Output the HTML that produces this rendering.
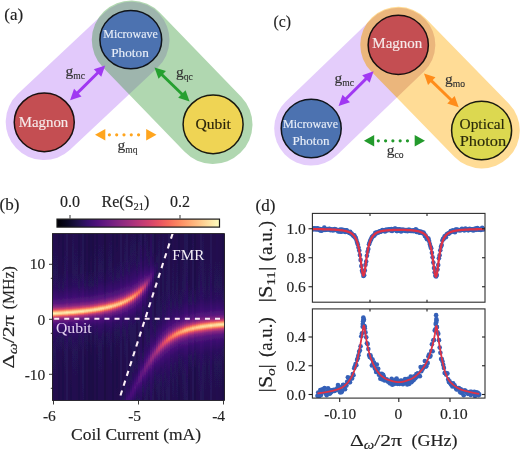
<!DOCTYPE html>
<html><head><meta charset="utf-8"><title>Figure</title>
<style>
html,body{margin:0;padding:0;background:#fff;}
svg{display:block;font-family:"Liberation Serif", "DejaVu Serif", serif;}
</style></head><body>
<svg width="520" height="451" viewBox="0 0 520 451">
<rect width="520" height="451" fill="#fff"/>
<g stroke-linecap="round" fill="none">
<line x1="43.9" y1="121.9" x2="131.3" y2="39.9" stroke="#9030f0" stroke-opacity="0.26" stroke-width="76.4"/>
<line x1="131.3" y1="39.9" x2="213" y2="124.4" stroke="#2f952f" stroke-opacity="0.38" stroke-width="79"/>
</g>
<ellipse cx="44.25" cy="122.35" rx="30" ry="29.3" fill="#c44e52" stroke="#1a1010" stroke-width="1.5"/>
<ellipse cx="130.8" cy="39.65" rx="30.9" ry="29.2" fill="#4c72b0" stroke="#10141a" stroke-width="1.5"/>
<ellipse cx="213.1" cy="124.35" rx="30" ry="29.3" fill="#efd454" stroke="#1a1a10" stroke-width="1.5"/>
<polygon points="105.20,65.50 93.79,69.32 101.25,76.86" fill="#a038f2"/>
<polygon points="70.10,100.20 74.05,88.84 81.51,96.38" fill="#a038f2"/>
<line x1="98.29" y1="72.33" x2="77.01" y2="93.37" stroke="#a038f2" stroke-width="2.9"/>
<polygon points="154.50,67.40 158.55,78.73 165.94,71.12" fill="#26a030"/>
<polygon points="189.60,101.50 178.16,97.78 185.55,90.17" fill="#26a030"/>
<line x1="161.47" y1="74.17" x2="182.63" y2="94.73" stroke="#26a030" stroke-width="2.9"/>
<polygon points="95.00,134.80 105.30,140.60 105.30,129.00" fill="#ffa51e"/>
<polygon points="156.50,134.80 146.20,140.60 146.20,129.00" fill="#ffa51e"/>
<line x1="109.40" y1="134.80" x2="138.80" y2="134.80" stroke="#ffa51e" stroke-width="3.2" stroke-linecap="round" stroke-dasharray="0.01 7.28"/>
<text x="4.3" y="20.3" font-size="17" text-anchor="start" fill="#222" stroke="#222" stroke-width="0.15" >(a)</text>
<text x="43.5" y="126.6" font-size="15.5" text-anchor="middle" fill="#f6eaea" stroke="#f6eaea" stroke-width="0.15" textLength="49.5" lengthAdjust="spacingAndGlyphs" >Magnon</text>
<text x="130.5" y="38.4" font-size="13.5" text-anchor="middle" fill="#e8eef8" stroke="#e8eef8" stroke-width="0.15" textLength="54.5" lengthAdjust="spacingAndGlyphs" >Microwave</text>
<text x="130" y="56.7" font-size="13.5" text-anchor="middle" fill="#e8eef8" stroke="#e8eef8" stroke-width="0.15" textLength="37.5" lengthAdjust="spacingAndGlyphs" >Photon</text>
<text x="213.2" y="128.8" font-size="15.5" text-anchor="middle" fill="#2a230a" stroke="#2a230a" stroke-width="0.15" textLength="35.5" lengthAdjust="spacingAndGlyphs" >Qubit</text>
<text x="65.5" y="76.2" font-size="15.5" fill="#333" stroke="#333" stroke-width="0.15">g<tspan font-size="9.6" dy="2.5">mc</tspan></text>
<text x="176" y="77.2" font-size="15.5" fill="#333" stroke="#333" stroke-width="0.15">g<tspan font-size="9.6" dy="2.5">qc</tspan></text>
<text x="117.5" y="150" font-size="15.5" fill="#333" stroke="#333" stroke-width="0.15">g<tspan font-size="9.6" dy="2.5">mq</tspan></text>
<g stroke-linecap="round" fill="none">
<line x1="311.2" y1="128.5" x2="398.3" y2="44.8" stroke="#9030f0" stroke-opacity="0.24" stroke-width="74"/>
<line x1="398.3" y1="44.8" x2="481.8" y2="130.4" stroke="#ffb92d" stroke-opacity="0.5" stroke-width="76"/>
</g>
<clipPath id="cpc"><rect x="-37" y="-37" width="194.80" height="74" rx="37" transform="translate(311.2,128.5) rotate(-43.860)"/></clipPath>
<g clip-path="url(#cpc)"><rect x="-38" y="-38" width="195.58" height="76" rx="38" transform="translate(398.3,44.8) rotate(45.712)" fill="#c87800" fill-opacity="0.16"/></g>
<ellipse cx="311.2" cy="128.5" rx="30" ry="29.3" fill="#4c72b0" stroke="#10141a" stroke-width="1.5"/>
<ellipse cx="398.25" cy="44.9" rx="30.1" ry="29.6" fill="#c44e52" stroke="#1a1010" stroke-width="1.5"/>
<ellipse cx="481.6" cy="130.5" rx="30" ry="29.3" fill="#dcd850" stroke="#1a1a10" stroke-width="1.5"/>
<polygon points="373.60,71.30 362.20,75.14 369.66,82.67" fill="#a038f2"/>
<polygon points="338.60,106.00 342.54,94.63 350.00,102.16" fill="#a038f2"/>
<line x1="366.70" y1="78.14" x2="345.50" y2="99.16" stroke="#a038f2" stroke-width="2.9"/>
<polygon points="424.00,73.60 428.06,84.93 435.44,77.32" fill="#ff8c1a"/>
<polygon points="458.70,107.30 447.26,103.58 454.64,95.97" fill="#ff8c1a"/>
<line x1="430.97" y1="80.37" x2="451.73" y2="100.53" stroke="#ff8c1a" stroke-width="2.9"/>
<polygon points="363.90,140.80 374.20,146.60 374.20,135.00" fill="#239a2c"/>
<polygon points="425.00,140.80 414.70,146.60 414.70,135.00" fill="#239a2c"/>
<line x1="378.30" y1="140.80" x2="407.70" y2="140.80" stroke="#239a2c" stroke-width="3.2" stroke-linecap="round" stroke-dasharray="0.01 7.28"/>
<text x="273.6" y="26.7" font-size="17" text-anchor="start" fill="#222" stroke="#222" stroke-width="0.15" textLength="17.5" lengthAdjust="spacingAndGlyphs" >(c)</text>
<text x="397.3" y="48.3" font-size="15.5" text-anchor="middle" fill="#f6eaea" stroke="#f6eaea" stroke-width="0.15" textLength="50" lengthAdjust="spacingAndGlyphs" >Magnon</text>
<text x="310.5" y="127.5" font-size="13.5" text-anchor="middle" fill="#e8eef8" stroke="#e8eef8" stroke-width="0.15" textLength="55" lengthAdjust="spacingAndGlyphs" >Microwave</text>
<text x="311" y="144.5" font-size="13.5" text-anchor="middle" fill="#e8eef8" stroke="#e8eef8" stroke-width="0.15" textLength="37" lengthAdjust="spacingAndGlyphs" >Photon</text>
<text x="482.2" y="128.8" font-size="15.5" text-anchor="middle" fill="#2a2a0a" stroke="#2a2a0a" stroke-width="0.15" textLength="45.3" lengthAdjust="spacingAndGlyphs" >Optical</text>
<text x="483" y="146.2" font-size="15.5" text-anchor="middle" fill="#2a2a0a" stroke="#2a2a0a" stroke-width="0.15" textLength="46.5" lengthAdjust="spacingAndGlyphs" >Photon</text>
<text x="334.5" y="83" font-size="15.5" fill="#333" stroke="#333" stroke-width="0.15">g<tspan font-size="9.6" dy="2.5">mc</tspan></text>
<text x="445" y="84" font-size="15.5" fill="#333" stroke="#333" stroke-width="0.15">g<tspan font-size="9.6" dy="2.5">mo</tspan></text>
<text x="386.7" y="155" font-size="15.5" fill="#333" stroke="#333" stroke-width="0.15">g<tspan font-size="9.6" dy="2.5">co</tspan></text>
<defs><linearGradient id="c0" x1="0" y1="0" x2="0" y2="1"><stop offset="0.0000" stop-color="#21114e"/><stop offset="0.0997" stop-color="#221150"/><stop offset="0.2421" stop-color="#241253"/><stop offset="0.3252" stop-color="#2a115c"/><stop offset="0.3846" stop-color="#3b0f70"/><stop offset="0.4202" stop-color="#5a167e"/><stop offset="0.4415" stop-color="#8b2981"/><stop offset="0.4558" stop-color="#d5446d"/><stop offset="0.4653" stop-color="#fc8c63"/><stop offset="0.4724" stop-color="#fed194"/><stop offset="0.4795" stop-color="#fceeb0"/><stop offset="0.4866" stop-color="#fec68a"/><stop offset="0.4938" stop-color="#f8745c"/><stop offset="0.5033" stop-color="#ba3878"/><stop offset="0.5175" stop-color="#782281"/><stop offset="0.5389" stop-color="#4e117b"/><stop offset="0.5745" stop-color="#341069"/><stop offset="0.6338" stop-color="#29115a"/><stop offset="0.7169" stop-color="#241253"/><stop offset="0.8594" stop-color="#21114e"/><stop offset="1.0000" stop-color="#21114e"/></linearGradient><linearGradient id="c1" x1="0" y1="0" x2="0" y2="1"><stop offset="0.0000" stop-color="#221150"/><stop offset="0.0988" stop-color="#221150"/><stop offset="0.2413" stop-color="#251255"/><stop offset="0.3244" stop-color="#2c115f"/><stop offset="0.3838" stop-color="#3d0f71"/><stop offset="0.4195" stop-color="#5c167f"/><stop offset="0.4408" stop-color="#8c2981"/><stop offset="0.4551" stop-color="#d5446d"/><stop offset="0.4646" stop-color="#fc8e64"/><stop offset="0.4717" stop-color="#fed194"/><stop offset="0.4788" stop-color="#fcf0b2"/><stop offset="0.4860" stop-color="#fec88c"/><stop offset="0.4931" stop-color="#f8745c"/><stop offset="0.5026" stop-color="#bc3978"/><stop offset="0.5169" stop-color="#782281"/><stop offset="0.5382" stop-color="#4f127b"/><stop offset="0.5739" stop-color="#36106b"/><stop offset="0.6332" stop-color="#29115a"/><stop offset="0.7164" stop-color="#241253"/><stop offset="0.8589" stop-color="#221150"/><stop offset="1.0000" stop-color="#21114e"/></linearGradient><linearGradient id="c2" x1="0" y1="0" x2="0" y2="1"><stop offset="0.0000" stop-color="#20114b"/><stop offset="0.0978" stop-color="#21114e"/><stop offset="0.2404" stop-color="#241253"/><stop offset="0.3236" stop-color="#2a115c"/><stop offset="0.3831" stop-color="#3b0f70"/><stop offset="0.4187" stop-color="#5a167e"/><stop offset="0.4401" stop-color="#8b2981"/><stop offset="0.4544" stop-color="#d3436e"/><stop offset="0.4639" stop-color="#fc8a62"/><stop offset="0.4710" stop-color="#fecf92"/><stop offset="0.4781" stop-color="#fcecae"/><stop offset="0.4853" stop-color="#fec488"/><stop offset="0.4924" stop-color="#f7725c"/><stop offset="0.5019" stop-color="#ba3878"/><stop offset="0.5162" stop-color="#762181"/><stop offset="0.5376" stop-color="#4e117b"/><stop offset="0.5732" stop-color="#331067"/><stop offset="0.6326" stop-color="#271258"/><stop offset="0.7158" stop-color="#221150"/><stop offset="0.8584" stop-color="#21114e"/><stop offset="1.0000" stop-color="#20114b"/></linearGradient><linearGradient id="c3" x1="0" y1="0" x2="0" y2="1"><stop offset="0.0000" stop-color="#1e1149"/><stop offset="0.0969" stop-color="#20114b"/><stop offset="0.2396" stop-color="#21114e"/><stop offset="0.3228" stop-color="#271258"/><stop offset="0.3823" stop-color="#38106c"/><stop offset="0.4179" stop-color="#57157e"/><stop offset="0.4393" stop-color="#882781"/><stop offset="0.4536" stop-color="#d2426f"/><stop offset="0.4631" stop-color="#fc8961"/><stop offset="0.4703" stop-color="#fecc8f"/><stop offset="0.4774" stop-color="#fdebac"/><stop offset="0.4845" stop-color="#fec287"/><stop offset="0.4917" stop-color="#f66e5c"/><stop offset="0.5012" stop-color="#b73779"/><stop offset="0.5155" stop-color="#752181"/><stop offset="0.5369" stop-color="#4a1079"/><stop offset="0.5725" stop-color="#311165"/><stop offset="0.6320" stop-color="#251255"/><stop offset="0.7152" stop-color="#21114e"/><stop offset="0.8580" stop-color="#1e1149"/><stop offset="1.0000" stop-color="#1e1149"/></linearGradient><linearGradient id="c4" x1="0" y1="0" x2="0" y2="1"><stop offset="0.0000" stop-color="#20114b"/><stop offset="0.0958" stop-color="#21114e"/><stop offset="0.2386" stop-color="#221150"/><stop offset="0.3219" stop-color="#29115a"/><stop offset="0.3814" stop-color="#390f6e"/><stop offset="0.4171" stop-color="#59157e"/><stop offset="0.4386" stop-color="#892881"/><stop offset="0.4528" stop-color="#d2426f"/><stop offset="0.4624" stop-color="#fc8a62"/><stop offset="0.4695" stop-color="#fecd90"/><stop offset="0.4766" stop-color="#fcecae"/><stop offset="0.4838" stop-color="#fec488"/><stop offset="0.4909" stop-color="#f7705c"/><stop offset="0.5004" stop-color="#b83779"/><stop offset="0.5147" stop-color="#752181"/><stop offset="0.5361" stop-color="#4c117a"/><stop offset="0.5718" stop-color="#331067"/><stop offset="0.6313" stop-color="#271258"/><stop offset="0.7146" stop-color="#221150"/><stop offset="0.8575" stop-color="#20114b"/><stop offset="1.0000" stop-color="#20114b"/></linearGradient><linearGradient id="c5" x1="0" y1="0" x2="0" y2="1"><stop offset="0.0000" stop-color="#1e1149"/><stop offset="0.0948" stop-color="#1e1149"/><stop offset="0.2377" stop-color="#21114e"/><stop offset="0.3210" stop-color="#271258"/><stop offset="0.3806" stop-color="#38106c"/><stop offset="0.4163" stop-color="#57157e"/><stop offset="0.4377" stop-color="#882781"/><stop offset="0.4520" stop-color="#d0416f"/><stop offset="0.4616" stop-color="#fc8961"/><stop offset="0.4687" stop-color="#fecc8f"/><stop offset="0.4758" stop-color="#fde9aa"/><stop offset="0.4830" stop-color="#fec185"/><stop offset="0.4901" stop-color="#f66e5c"/><stop offset="0.4997" stop-color="#b73779"/><stop offset="0.5140" stop-color="#732081"/><stop offset="0.5354" stop-color="#4a1079"/><stop offset="0.5711" stop-color="#311165"/><stop offset="0.6307" stop-color="#241253"/><stop offset="0.7140" stop-color="#20114b"/><stop offset="0.8569" stop-color="#1e1149"/><stop offset="1.0000" stop-color="#1e1149"/></linearGradient><linearGradient id="c6" x1="0" y1="0" x2="0" y2="1"><stop offset="0.0000" stop-color="#21114e"/><stop offset="0.0936" stop-color="#221150"/><stop offset="0.2366" stop-color="#251255"/><stop offset="0.3201" stop-color="#2c115f"/><stop offset="0.3797" stop-color="#3b0f70"/><stop offset="0.4154" stop-color="#5a167e"/><stop offset="0.4369" stop-color="#8b2981"/><stop offset="0.4512" stop-color="#d3436e"/><stop offset="0.4607" stop-color="#fc8c63"/><stop offset="0.4679" stop-color="#fecf92"/><stop offset="0.4750" stop-color="#fceeb0"/><stop offset="0.4822" stop-color="#fec488"/><stop offset="0.4893" stop-color="#f7725c"/><stop offset="0.4988" stop-color="#ba3878"/><stop offset="0.5132" stop-color="#762181"/><stop offset="0.5346" stop-color="#4e117b"/><stop offset="0.5704" stop-color="#341069"/><stop offset="0.6299" stop-color="#29115a"/><stop offset="0.7134" stop-color="#241253"/><stop offset="0.8564" stop-color="#21114e"/><stop offset="1.0000" stop-color="#21114e"/></linearGradient><linearGradient id="c7" x1="0" y1="0" x2="0" y2="1"><stop offset="0.0000" stop-color="#251255"/><stop offset="0.0925" stop-color="#251255"/><stop offset="0.2356" stop-color="#29115a"/><stop offset="0.3191" stop-color="#2f1163"/><stop offset="0.3787" stop-color="#400f74"/><stop offset="0.4145" stop-color="#5f187f"/><stop offset="0.4360" stop-color="#902a81"/><stop offset="0.4503" stop-color="#d8456c"/><stop offset="0.4598" stop-color="#fc9065"/><stop offset="0.4670" stop-color="#fed597"/><stop offset="0.4741" stop-color="#fcf2b4"/><stop offset="0.4813" stop-color="#feca8d"/><stop offset="0.4885" stop-color="#f9785d"/><stop offset="0.4980" stop-color="#bf3a77"/><stop offset="0.5123" stop-color="#7b2382"/><stop offset="0.5338" stop-color="#52137c"/><stop offset="0.5696" stop-color="#390f6e"/><stop offset="0.6292" stop-color="#2c115f"/><stop offset="0.7127" stop-color="#271258"/><stop offset="0.8558" stop-color="#251255"/><stop offset="1.0000" stop-color="#251255"/></linearGradient><linearGradient id="c8" x1="0" y1="0" x2="0" y2="1"><stop offset="0.0000" stop-color="#20114b"/><stop offset="0.0912" stop-color="#20114b"/><stop offset="0.2345" stop-color="#221150"/><stop offset="0.3180" stop-color="#29115a"/><stop offset="0.3777" stop-color="#390f6e"/><stop offset="0.4135" stop-color="#59157e"/><stop offset="0.4350" stop-color="#892881"/><stop offset="0.4494" stop-color="#d2426f"/><stop offset="0.4589" stop-color="#fc8961"/><stop offset="0.4661" stop-color="#fecd90"/><stop offset="0.4732" stop-color="#fdebac"/><stop offset="0.4804" stop-color="#fec287"/><stop offset="0.4876" stop-color="#f7705c"/><stop offset="0.4971" stop-color="#b83779"/><stop offset="0.5114" stop-color="#752181"/><stop offset="0.5329" stop-color="#4c117a"/><stop offset="0.5687" stop-color="#331067"/><stop offset="0.6284" stop-color="#251255"/><stop offset="0.7120" stop-color="#21114e"/><stop offset="0.8553" stop-color="#20114b"/><stop offset="1.0000" stop-color="#20114b"/></linearGradient><linearGradient id="c9" x1="0" y1="0" x2="0" y2="1"><stop offset="0.0000" stop-color="#20114b"/><stop offset="0.0899" stop-color="#20114b"/><stop offset="0.2333" stop-color="#221150"/><stop offset="0.3169" stop-color="#29115a"/><stop offset="0.3767" stop-color="#390f6e"/><stop offset="0.4125" stop-color="#59157e"/><stop offset="0.4340" stop-color="#892881"/><stop offset="0.4484" stop-color="#d2426f"/><stop offset="0.4579" stop-color="#fc8961"/><stop offset="0.4651" stop-color="#fecc8f"/><stop offset="0.4723" stop-color="#fde9aa"/><stop offset="0.4795" stop-color="#fec185"/><stop offset="0.4866" stop-color="#f66e5c"/><stop offset="0.4962" stop-color="#b73779"/><stop offset="0.5105" stop-color="#752181"/><stop offset="0.5320" stop-color="#4c117a"/><stop offset="0.5679" stop-color="#331067"/><stop offset="0.6276" stop-color="#251255"/><stop offset="0.7113" stop-color="#21114e"/><stop offset="0.8547" stop-color="#20114b"/><stop offset="1.0000" stop-color="#1e1149"/></linearGradient><linearGradient id="c10" x1="0" y1="0" x2="0" y2="1"><stop offset="0.0000" stop-color="#221150"/><stop offset="0.0885" stop-color="#241253"/><stop offset="0.2321" stop-color="#251255"/><stop offset="0.3158" stop-color="#2c115f"/><stop offset="0.3756" stop-color="#3d0f71"/><stop offset="0.4115" stop-color="#5c167f"/><stop offset="0.4330" stop-color="#8c2981"/><stop offset="0.4474" stop-color="#d5446d"/><stop offset="0.4569" stop-color="#fc8c63"/><stop offset="0.4641" stop-color="#fecf92"/><stop offset="0.4713" stop-color="#fceeb0"/><stop offset="0.4785" stop-color="#fec68a"/><stop offset="0.4856" stop-color="#f8745c"/><stop offset="0.4952" stop-color="#bc3978"/><stop offset="0.5096" stop-color="#782281"/><stop offset="0.5311" stop-color="#4f127b"/><stop offset="0.5670" stop-color="#36106b"/><stop offset="0.6268" stop-color="#2a115c"/><stop offset="0.7105" stop-color="#251255"/><stop offset="0.8541" stop-color="#221150"/><stop offset="1.0000" stop-color="#221150"/></linearGradient><linearGradient id="c11" x1="0" y1="0" x2="0" y2="1"><stop offset="0.0000" stop-color="#221150"/><stop offset="0.0871" stop-color="#221150"/><stop offset="0.2308" stop-color="#251255"/><stop offset="0.3146" stop-color="#2c115f"/><stop offset="0.3745" stop-color="#3d0f71"/><stop offset="0.4104" stop-color="#5c167f"/><stop offset="0.4319" stop-color="#8c2981"/><stop offset="0.4463" stop-color="#d3436e"/><stop offset="0.4559" stop-color="#fc8c63"/><stop offset="0.4631" stop-color="#fecf92"/><stop offset="0.4703" stop-color="#fcecae"/><stop offset="0.4774" stop-color="#fec488"/><stop offset="0.4846" stop-color="#f7725c"/><stop offset="0.4942" stop-color="#ba3878"/><stop offset="0.5086" stop-color="#782281"/><stop offset="0.5301" stop-color="#4f127b"/><stop offset="0.5660" stop-color="#36106b"/><stop offset="0.6259" stop-color="#29115a"/><stop offset="0.7097" stop-color="#241253"/><stop offset="0.8534" stop-color="#221150"/><stop offset="0.9810" stop-color="#221150"/><stop offset="1.0000" stop-color="#221150"/></linearGradient><linearGradient id="c12" x1="0" y1="0" x2="0" y2="1"><stop offset="0.0000" stop-color="#21114e"/><stop offset="0.0856" stop-color="#221150"/><stop offset="0.2294" stop-color="#251255"/><stop offset="0.3133" stop-color="#2c115f"/><stop offset="0.3733" stop-color="#3b0f70"/><stop offset="0.4092" stop-color="#5a167e"/><stop offset="0.4308" stop-color="#8b2981"/><stop offset="0.4452" stop-color="#d3436e"/><stop offset="0.4548" stop-color="#fc8a62"/><stop offset="0.4620" stop-color="#fecd90"/><stop offset="0.4692" stop-color="#fdebac"/><stop offset="0.4764" stop-color="#fec287"/><stop offset="0.4835" stop-color="#f7705c"/><stop offset="0.4931" stop-color="#ba3878"/><stop offset="0.5075" stop-color="#762181"/><stop offset="0.5291" stop-color="#4e117b"/><stop offset="0.5651" stop-color="#341069"/><stop offset="0.6250" stop-color="#29115a"/><stop offset="0.7089" stop-color="#241253"/><stop offset="0.8528" stop-color="#21114e"/><stop offset="0.9557" stop-color="#21114e"/><stop offset="1.0000" stop-color="#21114e"/></linearGradient><linearGradient id="c13" x1="0" y1="0" x2="0" y2="1"><stop offset="0.0000" stop-color="#1e1149"/><stop offset="0.0839" stop-color="#1e1149"/><stop offset="0.2280" stop-color="#21114e"/><stop offset="0.3120" stop-color="#271258"/><stop offset="0.3720" stop-color="#38106c"/><stop offset="0.4080" stop-color="#57157e"/><stop offset="0.4296" stop-color="#882781"/><stop offset="0.4440" stop-color="#cf4070"/><stop offset="0.4536" stop-color="#fb8560"/><stop offset="0.4608" stop-color="#feca8d"/><stop offset="0.4680" stop-color="#fde7a9"/><stop offset="0.4752" stop-color="#febf84"/><stop offset="0.4824" stop-color="#f66c5c"/><stop offset="0.4920" stop-color="#b5367a"/><stop offset="0.5064" stop-color="#732081"/><stop offset="0.5280" stop-color="#4a1079"/><stop offset="0.5640" stop-color="#311165"/><stop offset="0.6240" stop-color="#241253"/><stop offset="0.7081" stop-color="#21114e"/><stop offset="0.8521" stop-color="#1e1149"/><stop offset="0.9305" stop-color="#1e1149"/><stop offset="1.0000" stop-color="#1e1149"/></linearGradient><linearGradient id="c14" x1="0" y1="0" x2="0" y2="1"><stop offset="0.0000" stop-color="#21114e"/><stop offset="0.0822" stop-color="#21114e"/><stop offset="0.2264" stop-color="#241253"/><stop offset="0.3106" stop-color="#2a115c"/><stop offset="0.3707" stop-color="#3b0f70"/><stop offset="0.4067" stop-color="#5a167e"/><stop offset="0.4284" stop-color="#8b2981"/><stop offset="0.4428" stop-color="#d2426f"/><stop offset="0.4524" stop-color="#fc8961"/><stop offset="0.4596" stop-color="#fecc8f"/><stop offset="0.4668" stop-color="#fde9aa"/><stop offset="0.4740" stop-color="#fec287"/><stop offset="0.4812" stop-color="#f7705c"/><stop offset="0.4908" stop-color="#b83779"/><stop offset="0.5053" stop-color="#762181"/><stop offset="0.5269" stop-color="#4e117b"/><stop offset="0.5630" stop-color="#341069"/><stop offset="0.6230" stop-color="#271258"/><stop offset="0.7072" stop-color="#221150"/><stop offset="0.8514" stop-color="#21114e"/><stop offset="0.9053" stop-color="#21114e"/><stop offset="1.0000" stop-color="#21114e"/></linearGradient><linearGradient id="c15" x1="0" y1="0" x2="0" y2="1"><stop offset="0.0000" stop-color="#241253"/><stop offset="0.0804" stop-color="#241253"/><stop offset="0.2248" stop-color="#271258"/><stop offset="0.3091" stop-color="#2d1161"/><stop offset="0.3693" stop-color="#3f0f72"/><stop offset="0.4054" stop-color="#5c167f"/><stop offset="0.4270" stop-color="#8c2981"/><stop offset="0.4415" stop-color="#d5446d"/><stop offset="0.4511" stop-color="#fc8a62"/><stop offset="0.4583" stop-color="#fecd90"/><stop offset="0.4655" stop-color="#fcecae"/><stop offset="0.4728" stop-color="#fec488"/><stop offset="0.4800" stop-color="#f7725c"/><stop offset="0.4896" stop-color="#ba3878"/><stop offset="0.5041" stop-color="#782281"/><stop offset="0.5257" stop-color="#4f127b"/><stop offset="0.5618" stop-color="#36106b"/><stop offset="0.6220" stop-color="#2a115c"/><stop offset="0.7062" stop-color="#251255"/><stop offset="0.8507" stop-color="#241253"/><stop offset="0.8802" stop-color="#241253"/><stop offset="1.0000" stop-color="#221150"/></linearGradient><linearGradient id="c16" x1="0" y1="0" x2="0" y2="1"><stop offset="0.0000" stop-color="#1d1147"/><stop offset="0.0785" stop-color="#1e1149"/><stop offset="0.2231" stop-color="#20114b"/><stop offset="0.3075" stop-color="#251255"/><stop offset="0.3678" stop-color="#36106b"/><stop offset="0.4039" stop-color="#56147d"/><stop offset="0.4256" stop-color="#862781"/><stop offset="0.4401" stop-color="#cd4071"/><stop offset="0.4497" stop-color="#fb835f"/><stop offset="0.4570" stop-color="#fec68a"/><stop offset="0.4642" stop-color="#fde3a5"/><stop offset="0.4714" stop-color="#febb81"/><stop offset="0.4787" stop-color="#f4695c"/><stop offset="0.4883" stop-color="#b3367a"/><stop offset="0.5028" stop-color="#721f81"/><stop offset="0.5245" stop-color="#491078"/><stop offset="0.5606" stop-color="#2f1163"/><stop offset="0.6209" stop-color="#241253"/><stop offset="0.7053" stop-color="#20114b"/><stop offset="0.8499" stop-color="#1d1147"/><stop offset="0.8551" stop-color="#1d1147"/><stop offset="1.0000" stop-color="#1d1147"/></linearGradient><linearGradient id="c17" x1="0" y1="0" x2="0" y2="1"><stop offset="0.0000" stop-color="#20114b"/><stop offset="0.0764" stop-color="#20114b"/><stop offset="0.2213" stop-color="#221150"/><stop offset="0.3058" stop-color="#29115a"/><stop offset="0.3662" stop-color="#390f6e"/><stop offset="0.4024" stop-color="#59157e"/><stop offset="0.4242" stop-color="#882781"/><stop offset="0.4386" stop-color="#d0416f"/><stop offset="0.4483" stop-color="#fb8560"/><stop offset="0.4555" stop-color="#fec88c"/><stop offset="0.4628" stop-color="#fde7a9"/><stop offset="0.4700" stop-color="#febf84"/><stop offset="0.4773" stop-color="#f66c5c"/><stop offset="0.4869" stop-color="#b73779"/><stop offset="0.5014" stop-color="#752181"/><stop offset="0.5232" stop-color="#4c117a"/><stop offset="0.5594" stop-color="#331067"/><stop offset="0.6197" stop-color="#251255"/><stop offset="0.7043" stop-color="#221150"/><stop offset="0.8300" stop-color="#20114b"/><stop offset="0.8491" stop-color="#20114b"/><stop offset="1.0000" stop-color="#20114b"/></linearGradient><linearGradient id="c18" x1="0" y1="0" x2="0" y2="1"><stop offset="0.0000" stop-color="#1c1044"/><stop offset="0.0743" stop-color="#1c1044"/><stop offset="0.2194" stop-color="#1e1149"/><stop offset="0.3041" stop-color="#241253"/><stop offset="0.3645" stop-color="#341069"/><stop offset="0.4008" stop-color="#54137d"/><stop offset="0.4226" stop-color="#832681"/><stop offset="0.4371" stop-color="#ca3e72"/><stop offset="0.4468" stop-color="#fa7f5e"/><stop offset="0.4540" stop-color="#fec287"/><stop offset="0.4613" stop-color="#fde0a1"/><stop offset="0.4686" stop-color="#feb77e"/><stop offset="0.4758" stop-color="#f4675c"/><stop offset="0.4855" stop-color="#b0357b"/><stop offset="0.5000" stop-color="#6e1e81"/><stop offset="0.5218" stop-color="#471078"/><stop offset="0.5581" stop-color="#2d1161"/><stop offset="0.6185" stop-color="#21114e"/><stop offset="0.7032" stop-color="#1d1147"/><stop offset="0.8050" stop-color="#1c1044"/><stop offset="0.8483" stop-color="#1c1044"/><stop offset="1.0000" stop-color="#1c1044"/></linearGradient><linearGradient id="c19" x1="0" y1="0" x2="0" y2="1"><stop offset="0.0000" stop-color="#1d1147"/><stop offset="0.0719" stop-color="#1e1149"/><stop offset="0.2174" stop-color="#21114e"/><stop offset="0.3022" stop-color="#251255"/><stop offset="0.3628" stop-color="#36106b"/><stop offset="0.3991" stop-color="#56147d"/><stop offset="0.4209" stop-color="#842681"/><stop offset="0.4355" stop-color="#cd4071"/><stop offset="0.4452" stop-color="#fa815f"/><stop offset="0.4524" stop-color="#fec488"/><stop offset="0.4597" stop-color="#fde2a3"/><stop offset="0.4670" stop-color="#feb97f"/><stop offset="0.4743" stop-color="#f4695c"/><stop offset="0.4840" stop-color="#b2357b"/><stop offset="0.4985" stop-color="#721f81"/><stop offset="0.5203" stop-color="#491078"/><stop offset="0.5567" stop-color="#2f1163"/><stop offset="0.6173" stop-color="#241253"/><stop offset="0.7021" stop-color="#20114b"/><stop offset="0.7801" stop-color="#1e1149"/><stop offset="0.8475" stop-color="#1d1147"/><stop offset="1.0000" stop-color="#1d1147"/></linearGradient><linearGradient id="c20" x1="0" y1="0" x2="0" y2="1"><stop offset="0.0000" stop-color="#1c1044"/><stop offset="0.0695" stop-color="#1c1044"/><stop offset="0.2152" stop-color="#1e1149"/><stop offset="0.3002" stop-color="#241253"/><stop offset="0.3609" stop-color="#341069"/><stop offset="0.3973" stop-color="#54137d"/><stop offset="0.4192" stop-color="#832681"/><stop offset="0.4338" stop-color="#ca3e72"/><stop offset="0.4435" stop-color="#fa7d5e"/><stop offset="0.4508" stop-color="#fec185"/><stop offset="0.4580" stop-color="#fddea0"/><stop offset="0.4653" stop-color="#feb77e"/><stop offset="0.4726" stop-color="#f3655c"/><stop offset="0.4823" stop-color="#b0357b"/><stop offset="0.4969" stop-color="#6e1e81"/><stop offset="0.5188" stop-color="#471078"/><stop offset="0.5552" stop-color="#2d1161"/><stop offset="0.6159" stop-color="#21114e"/><stop offset="0.7009" stop-color="#1e1149"/><stop offset="0.7553" stop-color="#1d1147"/><stop offset="0.8466" stop-color="#1c1044"/><stop offset="1.0000" stop-color="#1c1044"/></linearGradient><linearGradient id="c21" x1="0" y1="0" x2="0" y2="1"><stop offset="0.0000" stop-color="#21114e"/><stop offset="0.0668" stop-color="#21114e"/><stop offset="0.2129" stop-color="#241253"/><stop offset="0.2980" stop-color="#2a115c"/><stop offset="0.3589" stop-color="#390f6e"/><stop offset="0.3954" stop-color="#59157e"/><stop offset="0.4173" stop-color="#882781"/><stop offset="0.4319" stop-color="#cf4070"/><stop offset="0.4417" stop-color="#fb8560"/><stop offset="0.4490" stop-color="#fec68a"/><stop offset="0.4563" stop-color="#fde3a5"/><stop offset="0.4636" stop-color="#febd82"/><stop offset="0.4709" stop-color="#f56b5c"/><stop offset="0.4806" stop-color="#b5367a"/><stop offset="0.4952" stop-color="#752181"/><stop offset="0.5171" stop-color="#4c117a"/><stop offset="0.5536" stop-color="#331067"/><stop offset="0.6145" stop-color="#271258"/><stop offset="0.6997" stop-color="#221150"/><stop offset="0.7305" stop-color="#221150"/><stop offset="0.8458" stop-color="#21114e"/><stop offset="0.9839" stop-color="#20114b"/><stop offset="1.0000" stop-color="#20114b"/></linearGradient><linearGradient id="c22" x1="0" y1="0" x2="0" y2="1"><stop offset="0.0000" stop-color="#1d1147"/><stop offset="0.0640" stop-color="#1e1149"/><stop offset="0.2104" stop-color="#21114e"/><stop offset="0.2958" stop-color="#251255"/><stop offset="0.3568" stop-color="#36106b"/><stop offset="0.3934" stop-color="#56147d"/><stop offset="0.4153" stop-color="#842681"/><stop offset="0.4300" stop-color="#cc3f71"/><stop offset="0.4397" stop-color="#fa7f5e"/><stop offset="0.4471" stop-color="#fec185"/><stop offset="0.4544" stop-color="#fddea0"/><stop offset="0.4617" stop-color="#feb77e"/><stop offset="0.4690" stop-color="#f4675c"/><stop offset="0.4788" stop-color="#b2357b"/><stop offset="0.4934" stop-color="#701f81"/><stop offset="0.5154" stop-color="#491078"/><stop offset="0.5520" stop-color="#2f1163"/><stop offset="0.6130" stop-color="#241253"/><stop offset="0.6984" stop-color="#20114b"/><stop offset="0.7058" stop-color="#20114b"/><stop offset="0.8448" stop-color="#1d1147"/><stop offset="0.9591" stop-color="#1d1147"/><stop offset="1.0000" stop-color="#1d1147"/></linearGradient><linearGradient id="c23" x1="0" y1="0" x2="0" y2="1"><stop offset="0.0000" stop-color="#221150"/><stop offset="0.0609" stop-color="#221150"/><stop offset="0.2077" stop-color="#251255"/><stop offset="0.2933" stop-color="#2c115f"/><stop offset="0.3545" stop-color="#3b0f70"/><stop offset="0.3912" stop-color="#5a167e"/><stop offset="0.4132" stop-color="#892881"/><stop offset="0.4279" stop-color="#d0416f"/><stop offset="0.4377" stop-color="#fb8560"/><stop offset="0.4450" stop-color="#fec68a"/><stop offset="0.4524" stop-color="#fde3a5"/><stop offset="0.4597" stop-color="#febd82"/><stop offset="0.4671" stop-color="#f66c5c"/><stop offset="0.4769" stop-color="#b73779"/><stop offset="0.4915" stop-color="#752181"/><stop offset="0.5136" stop-color="#4e117b"/><stop offset="0.5503" stop-color="#341069"/><stop offset="0.6114" stop-color="#29115a"/><stop offset="0.6812" stop-color="#241253"/><stop offset="0.6971" stop-color="#241253"/><stop offset="0.8439" stop-color="#221150"/><stop offset="0.9342" stop-color="#221150"/><stop offset="1.0000" stop-color="#21114e"/></linearGradient><linearGradient id="c24" x1="0" y1="0" x2="0" y2="1"><stop offset="0.0000" stop-color="#221150"/><stop offset="0.0576" stop-color="#221150"/><stop offset="0.2048" stop-color="#251255"/><stop offset="0.2907" stop-color="#2c115f"/><stop offset="0.3521" stop-color="#3b0f70"/><stop offset="0.3889" stop-color="#59157e"/><stop offset="0.4110" stop-color="#892881"/><stop offset="0.4257" stop-color="#cf4070"/><stop offset="0.4355" stop-color="#fb835f"/><stop offset="0.4429" stop-color="#fec488"/><stop offset="0.4502" stop-color="#fde2a3"/><stop offset="0.4576" stop-color="#febb81"/><stop offset="0.4650" stop-color="#f56b5c"/><stop offset="0.4748" stop-color="#b5367a"/><stop offset="0.4895" stop-color="#752181"/><stop offset="0.5116" stop-color="#4e117b"/><stop offset="0.5484" stop-color="#341069"/><stop offset="0.6098" stop-color="#29115a"/><stop offset="0.6567" stop-color="#251255"/><stop offset="0.6956" stop-color="#241253"/><stop offset="0.8429" stop-color="#221150"/><stop offset="0.9095" stop-color="#21114e"/><stop offset="1.0000" stop-color="#21114e"/></linearGradient><linearGradient id="c25" x1="0" y1="0" x2="0" y2="1"><stop offset="0.0000" stop-color="#21114e"/><stop offset="0.0541" stop-color="#21114e"/><stop offset="0.2018" stop-color="#241253"/><stop offset="0.2879" stop-color="#2a115c"/><stop offset="0.3495" stop-color="#390f6e"/><stop offset="0.3864" stop-color="#59157e"/><stop offset="0.4086" stop-color="#882781"/><stop offset="0.4233" stop-color="#cd4071"/><stop offset="0.4332" stop-color="#fa815f"/><stop offset="0.4406" stop-color="#fec287"/><stop offset="0.4480" stop-color="#fde0a1"/><stop offset="0.4553" stop-color="#feb77e"/><stop offset="0.4627" stop-color="#f4695c"/><stop offset="0.4726" stop-color="#b3367a"/><stop offset="0.4873" stop-color="#732081"/><stop offset="0.5095" stop-color="#4c117a"/><stop offset="0.5464" stop-color="#331067"/><stop offset="0.6080" stop-color="#271258"/><stop offset="0.6324" stop-color="#251255"/><stop offset="0.6941" stop-color="#221150"/><stop offset="0.8419" stop-color="#21114e"/><stop offset="0.8849" stop-color="#21114e"/><stop offset="1.0000" stop-color="#21114e"/></linearGradient><linearGradient id="c26" x1="0" y1="0" x2="0" y2="1"><stop offset="0.0000" stop-color="#1a1042"/><stop offset="0.0502" stop-color="#1a1042"/><stop offset="0.1985" stop-color="#1d1147"/><stop offset="0.2849" stop-color="#221150"/><stop offset="0.3467" stop-color="#311165"/><stop offset="0.3838" stop-color="#4f127b"/><stop offset="0.4060" stop-color="#7e2482"/><stop offset="0.4208" stop-color="#c53c74"/><stop offset="0.4307" stop-color="#f8765c"/><stop offset="0.4381" stop-color="#feb77e"/><stop offset="0.4455" stop-color="#fed597"/><stop offset="0.4529" stop-color="#feae77"/><stop offset="0.4603" stop-color="#f05f5e"/><stop offset="0.4702" stop-color="#ab337c"/><stop offset="0.4850" stop-color="#6b1d81"/><stop offset="0.5073" stop-color="#440f76"/><stop offset="0.5443" stop-color="#2a115c"/><stop offset="0.6061" stop-color="#20114b"/><stop offset="0.6081" stop-color="#20114b"/><stop offset="0.6926" stop-color="#1c1044"/><stop offset="0.8408" stop-color="#1a1042"/><stop offset="0.8604" stop-color="#1a1042"/><stop offset="1.0000" stop-color="#1a1042"/></linearGradient><linearGradient id="c27" x1="0" y1="0" x2="0" y2="1"><stop offset="0.0000" stop-color="#20114b"/><stop offset="0.0461" stop-color="#20114b"/><stop offset="0.1949" stop-color="#221150"/><stop offset="0.2817" stop-color="#29115a"/><stop offset="0.3437" stop-color="#38106c"/><stop offset="0.3809" stop-color="#57157e"/><stop offset="0.4032" stop-color="#842681"/><stop offset="0.4181" stop-color="#ca3e72"/><stop offset="0.4280" stop-color="#fa7d5e"/><stop offset="0.4355" stop-color="#febd82"/><stop offset="0.4429" stop-color="#fdda9c"/><stop offset="0.4503" stop-color="#feb47b"/><stop offset="0.4578" stop-color="#f3655c"/><stop offset="0.4677" stop-color="#b2357b"/><stop offset="0.4826" stop-color="#721f81"/><stop offset="0.5049" stop-color="#4a1079"/><stop offset="0.5421" stop-color="#311165"/><stop offset="0.5840" stop-color="#29115a"/><stop offset="0.6041" stop-color="#251255"/><stop offset="0.6909" stop-color="#21114e"/><stop offset="0.8359" stop-color="#20114b"/><stop offset="0.8397" stop-color="#20114b"/><stop offset="0.9829" stop-color="#20114b"/><stop offset="1.0000" stop-color="#20114b"/></linearGradient><linearGradient id="c28" x1="0" y1="0" x2="0" y2="1"><stop offset="0.0000" stop-color="#21114e"/><stop offset="0.0416" stop-color="#21114e"/><stop offset="0.1910" stop-color="#241253"/><stop offset="0.2782" stop-color="#2a115c"/><stop offset="0.3405" stop-color="#390f6e"/><stop offset="0.3778" stop-color="#57157e"/><stop offset="0.4002" stop-color="#862781"/><stop offset="0.4152" stop-color="#cc3f71"/><stop offset="0.4251" stop-color="#fa7d5e"/><stop offset="0.4326" stop-color="#febf84"/><stop offset="0.4401" stop-color="#fdda9c"/><stop offset="0.4476" stop-color="#feb47b"/><stop offset="0.4550" stop-color="#f3655c"/><stop offset="0.4650" stop-color="#b2357b"/><stop offset="0.4799" stop-color="#732081"/><stop offset="0.5023" stop-color="#4c117a"/><stop offset="0.5397" stop-color="#331067"/><stop offset="0.5601" stop-color="#2d1161"/><stop offset="0.6020" stop-color="#271258"/><stop offset="0.6891" stop-color="#221150"/><stop offset="0.8116" stop-color="#21114e"/><stop offset="0.8386" stop-color="#21114e"/><stop offset="0.9584" stop-color="#21114e"/><stop offset="1.0000" stop-color="#21114e"/></linearGradient><linearGradient id="c29" x1="0" y1="0" x2="0" y2="1"><stop offset="0.0000" stop-color="#221150"/><stop offset="0.0367" stop-color="#221150"/><stop offset="0.1868" stop-color="#251255"/><stop offset="0.2744" stop-color="#2a115c"/><stop offset="0.3370" stop-color="#3b0f70"/><stop offset="0.3745" stop-color="#59157e"/><stop offset="0.3970" stop-color="#862781"/><stop offset="0.4120" stop-color="#cc3f71"/><stop offset="0.4220" stop-color="#f97b5d"/><stop offset="0.4295" stop-color="#febd82"/><stop offset="0.4371" stop-color="#fed89a"/><stop offset="0.4446" stop-color="#feb47b"/><stop offset="0.4521" stop-color="#f3655c"/><stop offset="0.4621" stop-color="#b2357b"/><stop offset="0.4771" stop-color="#732081"/><stop offset="0.4996" stop-color="#4c117a"/><stop offset="0.5363" stop-color="#341069"/><stop offset="0.5371" stop-color="#341069"/><stop offset="0.5997" stop-color="#29115a"/><stop offset="0.6873" stop-color="#241253"/><stop offset="0.7875" stop-color="#221150"/><stop offset="0.8374" stop-color="#221150"/><stop offset="0.9340" stop-color="#21114e"/><stop offset="1.0000" stop-color="#221150"/></linearGradient><linearGradient id="c30" x1="0" y1="0" x2="0" y2="1"><stop offset="0.0000" stop-color="#1d1147"/><stop offset="0.0314" stop-color="#1d1147"/><stop offset="0.1823" stop-color="#20114b"/><stop offset="0.2703" stop-color="#251255"/><stop offset="0.3332" stop-color="#341069"/><stop offset="0.3709" stop-color="#52137c"/><stop offset="0.3935" stop-color="#802582"/><stop offset="0.4086" stop-color="#c43c75"/><stop offset="0.4187" stop-color="#f8745c"/><stop offset="0.4262" stop-color="#feb47b"/><stop offset="0.4338" stop-color="#fed194"/><stop offset="0.4413" stop-color="#feaa74"/><stop offset="0.4489" stop-color="#ef5d5e"/><stop offset="0.4589" stop-color="#ab337c"/><stop offset="0.4740" stop-color="#6d1d81"/><stop offset="0.4967" stop-color="#451077"/><stop offset="0.5127" stop-color="#38106c"/><stop offset="0.5344" stop-color="#2d1161"/><stop offset="0.5973" stop-color="#221150"/><stop offset="0.6853" stop-color="#1e1149"/><stop offset="0.7635" stop-color="#1d1147"/><stop offset="0.8362" stop-color="#1d1147"/><stop offset="0.9098" stop-color="#1d1147"/><stop offset="1.0000" stop-color="#1d1147"/></linearGradient><linearGradient id="c31" x1="0" y1="0" x2="0" y2="1"><stop offset="0.0000" stop-color="#20114b"/><stop offset="0.0255" stop-color="#20114b"/><stop offset="0.1773" stop-color="#221150"/><stop offset="0.2658" stop-color="#29115a"/><stop offset="0.3291" stop-color="#38106c"/><stop offset="0.3670" stop-color="#56147d"/><stop offset="0.3898" stop-color="#832681"/><stop offset="0.4050" stop-color="#c73d73"/><stop offset="0.4151" stop-color="#f8765c"/><stop offset="0.4227" stop-color="#feb67c"/><stop offset="0.4303" stop-color="#fed194"/><stop offset="0.4378" stop-color="#feac76"/><stop offset="0.4454" stop-color="#f05f5e"/><stop offset="0.4556" stop-color="#ae347b"/><stop offset="0.4707" stop-color="#701f81"/><stop offset="0.4893" stop-color="#4e117b"/><stop offset="0.4935" stop-color="#491078"/><stop offset="0.5314" stop-color="#311165"/><stop offset="0.5947" stop-color="#251255"/><stop offset="0.6832" stop-color="#221150"/><stop offset="0.7396" stop-color="#21114e"/><stop offset="0.8350" stop-color="#20114b"/><stop offset="0.8857" stop-color="#20114b"/><stop offset="0.9900" stop-color="#21114e"/><stop offset="1.0000" stop-color="#21114e"/></linearGradient><linearGradient id="c32" x1="0" y1="0" x2="0" y2="1"><stop offset="0.0000" stop-color="#1e1149"/><stop offset="0.0192" stop-color="#1e1149"/><stop offset="0.1719" stop-color="#21114e"/><stop offset="0.2610" stop-color="#271258"/><stop offset="0.3246" stop-color="#36106b"/><stop offset="0.3628" stop-color="#52137c"/><stop offset="0.3857" stop-color="#802582"/><stop offset="0.4010" stop-color="#c43c75"/><stop offset="0.4112" stop-color="#f7725c"/><stop offset="0.4188" stop-color="#feb078"/><stop offset="0.4264" stop-color="#fecd90"/><stop offset="0.4341" stop-color="#fea772"/><stop offset="0.4417" stop-color="#ee5b5e"/><stop offset="0.4519" stop-color="#ab337c"/><stop offset="0.4662" stop-color="#701f81"/><stop offset="0.4672" stop-color="#6d1d81"/><stop offset="0.4901" stop-color="#471078"/><stop offset="0.5283" stop-color="#2f1163"/><stop offset="0.5919" stop-color="#241253"/><stop offset="0.6810" stop-color="#20114b"/><stop offset="0.7160" stop-color="#20114b"/><stop offset="0.8337" stop-color="#1e1149"/><stop offset="0.8617" stop-color="#1e1149"/><stop offset="0.9658" stop-color="#20114b"/><stop offset="1.0000" stop-color="#20114b"/></linearGradient><linearGradient id="c33" x1="0" y1="0" x2="0" y2="1"><stop offset="0.0000" stop-color="#20114b"/><stop offset="0.0122" stop-color="#20114b"/><stop offset="0.1660" stop-color="#21114e"/><stop offset="0.2557" stop-color="#271258"/><stop offset="0.3198" stop-color="#36106b"/><stop offset="0.3582" stop-color="#54137d"/><stop offset="0.3813" stop-color="#802582"/><stop offset="0.3967" stop-color="#c23b75"/><stop offset="0.4069" stop-color="#f7705c"/><stop offset="0.4146" stop-color="#feae77"/><stop offset="0.4223" stop-color="#feca8d"/><stop offset="0.4300" stop-color="#fea571"/><stop offset="0.4377" stop-color="#ed5a5f"/><stop offset="0.4433" stop-color="#c83e73"/><stop offset="0.4479" stop-color="#aa337d"/><stop offset="0.4633" stop-color="#6d1d81"/><stop offset="0.4864" stop-color="#471078"/><stop offset="0.5248" stop-color="#2f1163"/><stop offset="0.5889" stop-color="#241253"/><stop offset="0.6786" stop-color="#21114e"/><stop offset="0.6926" stop-color="#21114e"/><stop offset="0.8324" stop-color="#20114b"/><stop offset="0.8380" stop-color="#20114b"/><stop offset="0.9418" stop-color="#20114b"/><stop offset="1.0000" stop-color="#21114e"/></linearGradient><linearGradient id="c34" x1="0" y1="0" x2="0" y2="1"><stop offset="0.0000" stop-color="#251255"/><stop offset="0.0045" stop-color="#251255"/><stop offset="0.1595" stop-color="#271258"/><stop offset="0.2499" stop-color="#2d1161"/><stop offset="0.3145" stop-color="#3d0f71"/><stop offset="0.3532" stop-color="#59157e"/><stop offset="0.3765" stop-color="#842681"/><stop offset="0.3919" stop-color="#c73d73"/><stop offset="0.4023" stop-color="#f8745c"/><stop offset="0.4100" stop-color="#feb27a"/><stop offset="0.4178" stop-color="#fecd90"/><stop offset="0.4208" stop-color="#fec88c"/><stop offset="0.4255" stop-color="#fea973"/><stop offset="0.4333" stop-color="#f05f5e"/><stop offset="0.4436" stop-color="#ae347b"/><stop offset="0.4591" stop-color="#732081"/><stop offset="0.4824" stop-color="#4e117b"/><stop offset="0.5211" stop-color="#36106b"/><stop offset="0.5857" stop-color="#2a115c"/><stop offset="0.6694" stop-color="#271258"/><stop offset="0.6761" stop-color="#271258"/><stop offset="0.8144" stop-color="#251255"/><stop offset="0.8311" stop-color="#251255"/><stop offset="0.9180" stop-color="#251255"/><stop offset="0.9801" stop-color="#29115a"/><stop offset="1.0000" stop-color="#2a115c"/></linearGradient><linearGradient id="c35" x1="0" y1="0" x2="0" y2="1"><stop offset="0.0000" stop-color="#20114b"/><stop offset="0.1524" stop-color="#21114e"/><stop offset="0.2435" stop-color="#271258"/><stop offset="0.3087" stop-color="#36106b"/><stop offset="0.3477" stop-color="#52137c"/><stop offset="0.3712" stop-color="#7e2482"/><stop offset="0.3868" stop-color="#bf3a77"/><stop offset="0.3972" stop-color="#f4695c"/><stop offset="0.3985" stop-color="#f8745c"/><stop offset="0.4050" stop-color="#fea772"/><stop offset="0.4129" stop-color="#fec185"/><stop offset="0.4207" stop-color="#fe9d6c"/><stop offset="0.4285" stop-color="#ea5661"/><stop offset="0.4389" stop-color="#a6317d"/><stop offset="0.4545" stop-color="#6b1d81"/><stop offset="0.4780" stop-color="#471078"/><stop offset="0.5171" stop-color="#2f1163"/><stop offset="0.5822" stop-color="#241253"/><stop offset="0.6464" stop-color="#21114e"/><stop offset="0.6734" stop-color="#21114e"/><stop offset="0.7911" stop-color="#20114b"/><stop offset="0.8297" stop-color="#20114b"/><stop offset="0.8944" stop-color="#20114b"/><stop offset="0.9563" stop-color="#221150"/><stop offset="0.9935" stop-color="#251255"/><stop offset="1.0000" stop-color="#271258"/></linearGradient><linearGradient id="c36" x1="0" y1="0" x2="0" y2="1"><stop offset="0.0000" stop-color="#21114e"/><stop offset="0.1445" stop-color="#241253"/><stop offset="0.2366" stop-color="#2a115c"/><stop offset="0.3023" stop-color="#38106c"/><stop offset="0.3418" stop-color="#54137d"/><stop offset="0.3654" stop-color="#7e2482"/><stop offset="0.3767" stop-color="#a8327d"/><stop offset="0.3812" stop-color="#bf3a77"/><stop offset="0.3917" stop-color="#f4695c"/><stop offset="0.3996" stop-color="#fea571"/><stop offset="0.4075" stop-color="#febf84"/><stop offset="0.4154" stop-color="#fd9b6b"/><stop offset="0.4233" stop-color="#ea5661"/><stop offset="0.4338" stop-color="#a8327d"/><stop offset="0.4496" stop-color="#6d1d81"/><stop offset="0.4732" stop-color="#491078"/><stop offset="0.5127" stop-color="#331067"/><stop offset="0.5784" stop-color="#271258"/><stop offset="0.6238" stop-color="#241253"/><stop offset="0.6705" stop-color="#241253"/><stop offset="0.7680" stop-color="#221150"/><stop offset="0.8283" stop-color="#221150"/><stop offset="0.8710" stop-color="#221150"/><stop offset="0.9327" stop-color="#251255"/><stop offset="0.9698" stop-color="#29115a"/><stop offset="0.9945" stop-color="#2f1163"/><stop offset="1.0000" stop-color="#331067"/></linearGradient><linearGradient id="c37" x1="0" y1="0" x2="0" y2="1"><stop offset="0.0000" stop-color="#241253"/><stop offset="0.1359" stop-color="#271258"/><stop offset="0.2289" stop-color="#2c115f"/><stop offset="0.2953" stop-color="#3b0f70"/><stop offset="0.3352" stop-color="#56147d"/><stop offset="0.3553" stop-color="#762181"/><stop offset="0.3591" stop-color="#802582"/><stop offset="0.3750" stop-color="#bf3a77"/><stop offset="0.3857" stop-color="#f4675c"/><stop offset="0.3937" stop-color="#fea36f"/><stop offset="0.4016" stop-color="#febd82"/><stop offset="0.4096" stop-color="#fd9a6a"/><stop offset="0.4176" stop-color="#e95462"/><stop offset="0.4282" stop-color="#a8327d"/><stop offset="0.4441" stop-color="#6e1e81"/><stop offset="0.4681" stop-color="#4c117a"/><stop offset="0.5079" stop-color="#341069"/><stop offset="0.5744" stop-color="#2a115c"/><stop offset="0.6015" stop-color="#29115a"/><stop offset="0.6674" stop-color="#271258"/><stop offset="0.7452" stop-color="#251255"/><stop offset="0.8268" stop-color="#251255"/><stop offset="0.8478" stop-color="#251255"/><stop offset="0.9094" stop-color="#29115a"/><stop offset="0.9463" stop-color="#2d1161"/><stop offset="0.9709" stop-color="#341069"/><stop offset="0.9873" stop-color="#3d0f71"/><stop offset="0.9996" stop-color="#420f75"/><stop offset="1.0000" stop-color="#420f75"/></linearGradient><linearGradient id="c38" x1="0" y1="0" x2="0" y2="1"><stop offset="0.0000" stop-color="#20114b"/><stop offset="0.1264" stop-color="#221150"/><stop offset="0.2204" stop-color="#271258"/><stop offset="0.2877" stop-color="#341069"/><stop offset="0.3280" stop-color="#51127c"/><stop offset="0.3344" stop-color="#57157e"/><stop offset="0.3522" stop-color="#792282"/><stop offset="0.3683" stop-color="#b73779"/><stop offset="0.3791" stop-color="#ef5d5e"/><stop offset="0.3871" stop-color="#fd9668"/><stop offset="0.3952" stop-color="#feb078"/><stop offset="0.4033" stop-color="#fc8c63"/><stop offset="0.4113" stop-color="#e34e65"/><stop offset="0.4221" stop-color="#a02f7f"/><stop offset="0.4382" stop-color="#681c81"/><stop offset="0.4624" stop-color="#451077"/><stop offset="0.5027" stop-color="#2f1163"/><stop offset="0.5699" stop-color="#251255"/><stop offset="0.5797" stop-color="#241253"/><stop offset="0.6640" stop-color="#21114e"/><stop offset="0.7227" stop-color="#21114e"/><stop offset="0.8249" stop-color="#21114e"/><stop offset="0.8253" stop-color="#221150"/><stop offset="0.8862" stop-color="#241253"/><stop offset="0.9230" stop-color="#29115a"/><stop offset="0.9475" stop-color="#311165"/><stop offset="0.9639" stop-color="#390f6e"/><stop offset="0.9762" stop-color="#400f74"/><stop offset="0.9884" stop-color="#420f75"/><stop offset="1.0000" stop-color="#400f74"/></linearGradient><linearGradient id="c39" x1="0" y1="0" x2="0" y2="1"><stop offset="0.0000" stop-color="#21114e"/><stop offset="0.1158" stop-color="#241253"/><stop offset="0.2111" stop-color="#29115a"/><stop offset="0.2792" stop-color="#36106b"/><stop offset="0.3141" stop-color="#4a1079"/><stop offset="0.3200" stop-color="#51127c"/><stop offset="0.3446" stop-color="#782281"/><stop offset="0.3609" stop-color="#b5367a"/><stop offset="0.3718" stop-color="#ed5a5f"/><stop offset="0.3799" stop-color="#fc9065"/><stop offset="0.3881" stop-color="#fea973"/><stop offset="0.3963" stop-color="#fb8761"/><stop offset="0.4045" stop-color="#df4a68"/><stop offset="0.4153" stop-color="#9e2f7f"/><stop offset="0.4317" stop-color="#681c81"/><stop offset="0.4562" stop-color="#451077"/><stop offset="0.4970" stop-color="#311165"/><stop offset="0.5582" stop-color="#271258"/><stop offset="0.5651" stop-color="#271258"/><stop offset="0.6604" stop-color="#241253"/><stop offset="0.7006" stop-color="#221150"/><stop offset="0.8024" stop-color="#241253"/><stop offset="0.8238" stop-color="#241253"/><stop offset="0.8634" stop-color="#271258"/><stop offset="0.9000" stop-color="#2c115f"/><stop offset="0.9244" stop-color="#341069"/><stop offset="0.9407" stop-color="#3d0f71"/><stop offset="0.9529" stop-color="#451077"/><stop offset="0.9651" stop-color="#471078"/><stop offset="0.9773" stop-color="#440f76"/><stop offset="0.9895" stop-color="#3d0f71"/><stop offset="1.0000" stop-color="#38106c"/></linearGradient><linearGradient id="c40" x1="0" y1="0" x2="0" y2="1"><stop offset="0.0000" stop-color="#221150"/><stop offset="0.1042" stop-color="#241253"/><stop offset="0.2009" stop-color="#29115a"/><stop offset="0.2699" stop-color="#36106b"/><stop offset="0.2943" stop-color="#420f75"/><stop offset="0.3113" stop-color="#4f127b"/><stop offset="0.3362" stop-color="#762181"/><stop offset="0.3527" stop-color="#b0357b"/><stop offset="0.3638" stop-color="#e95462"/><stop offset="0.3721" stop-color="#fb8761"/><stop offset="0.3803" stop-color="#fe9f6d"/><stop offset="0.3886" stop-color="#fa7d5e"/><stop offset="0.3969" stop-color="#db476a"/><stop offset="0.4080" stop-color="#9b2e7f"/><stop offset="0.4245" stop-color="#671b80"/><stop offset="0.4494" stop-color="#451077"/><stop offset="0.4908" stop-color="#311165"/><stop offset="0.5372" stop-color="#29115a"/><stop offset="0.5598" stop-color="#271258"/><stop offset="0.6565" stop-color="#241253"/><stop offset="0.6789" stop-color="#241253"/><stop offset="0.7802" stop-color="#241253"/><stop offset="0.8221" stop-color="#271258"/><stop offset="0.8409" stop-color="#29115a"/><stop offset="0.8773" stop-color="#2d1161"/><stop offset="0.9016" stop-color="#38106c"/><stop offset="0.9178" stop-color="#420f75"/><stop offset="0.9299" stop-color="#491078"/><stop offset="0.9421" stop-color="#4c117a"/><stop offset="0.9542" stop-color="#491078"/><stop offset="0.9664" stop-color="#420f75"/><stop offset="0.9826" stop-color="#38106c"/><stop offset="1.0000" stop-color="#2f1163"/></linearGradient><linearGradient id="c41" x1="0" y1="0" x2="0" y2="1"><stop offset="0.0000" stop-color="#221150"/><stop offset="0.0914" stop-color="#241253"/><stop offset="0.1895" stop-color="#29115a"/><stop offset="0.2596" stop-color="#36106b"/><stop offset="0.2754" stop-color="#3b0f70"/><stop offset="0.3017" stop-color="#4e117b"/><stop offset="0.3269" stop-color="#732081"/><stop offset="0.3437" stop-color="#aa337d"/><stop offset="0.3550" stop-color="#e34e65"/><stop offset="0.3634" stop-color="#f97b5d"/><stop offset="0.3718" stop-color="#fd9266"/><stop offset="0.3802" stop-color="#f7725c"/><stop offset="0.3886" stop-color="#d3436e"/><stop offset="0.3998" stop-color="#962c80"/><stop offset="0.4166" stop-color="#641a80"/><stop offset="0.4419" stop-color="#440f76"/><stop offset="0.4839" stop-color="#311165"/><stop offset="0.5169" stop-color="#2a115c"/><stop offset="0.5540" stop-color="#271258"/><stop offset="0.6522" stop-color="#241253"/><stop offset="0.6577" stop-color="#241253"/><stop offset="0.7584" stop-color="#251255"/><stop offset="0.8187" stop-color="#29115a"/><stop offset="0.8204" stop-color="#29115a"/><stop offset="0.8549" stop-color="#2f1163"/><stop offset="0.8791" stop-color="#390f6e"/><stop offset="0.8952" stop-color="#451077"/><stop offset="0.9073" stop-color="#4c117a"/><stop offset="0.9193" stop-color="#51127c"/><stop offset="0.9314" stop-color="#4c117a"/><stop offset="0.9435" stop-color="#440f76"/><stop offset="0.9596" stop-color="#390f6e"/><stop offset="0.9837" stop-color="#2f1163"/><stop offset="1.0000" stop-color="#2a115c"/></linearGradient><linearGradient id="c42" x1="0" y1="0" x2="0" y2="1"><stop offset="0.0000" stop-color="#1e1149"/><stop offset="0.0773" stop-color="#20114b"/><stop offset="0.1771" stop-color="#241253"/><stop offset="0.2483" stop-color="#2f1163"/><stop offset="0.2572" stop-color="#331067"/><stop offset="0.2911" stop-color="#471078"/><stop offset="0.3168" stop-color="#6b1d81"/><stop offset="0.3339" stop-color="#9e2f7f"/><stop offset="0.3453" stop-color="#d6456c"/><stop offset="0.3538" stop-color="#f4675c"/><stop offset="0.3624" stop-color="#fa7d5e"/><stop offset="0.3709" stop-color="#f1605d"/><stop offset="0.3795" stop-color="#c73d73"/><stop offset="0.3909" stop-color="#8b2981"/><stop offset="0.4080" stop-color="#5c167f"/><stop offset="0.4336" stop-color="#3d0f71"/><stop offset="0.4764" stop-color="#2a115c"/><stop offset="0.4971" stop-color="#271258"/><stop offset="0.5477" stop-color="#221150"/><stop offset="0.6371" stop-color="#20114b"/><stop offset="0.6474" stop-color="#20114b"/><stop offset="0.7370" stop-color="#21114e"/><stop offset="0.7970" stop-color="#251255"/><stop offset="0.8185" stop-color="#29115a"/><stop offset="0.8330" stop-color="#2c115f"/><stop offset="0.8570" stop-color="#38106c"/><stop offset="0.8729" stop-color="#440f76"/><stop offset="0.8849" stop-color="#4c117a"/><stop offset="0.8969" stop-color="#51127c"/><stop offset="0.9089" stop-color="#4c117a"/><stop offset="0.9209" stop-color="#440f76"/><stop offset="0.9369" stop-color="#38106c"/><stop offset="0.9609" stop-color="#2c115f"/><stop offset="0.9969" stop-color="#241253"/><stop offset="1.0000" stop-color="#241253"/></linearGradient><linearGradient id="c43" x1="0" y1="0" x2="0" y2="1"><stop offset="0.0000" stop-color="#221150"/><stop offset="0.0618" stop-color="#241253"/><stop offset="0.1633" stop-color="#271258"/><stop offset="0.2359" stop-color="#331067"/><stop offset="0.2400" stop-color="#341069"/><stop offset="0.2794" stop-color="#491078"/><stop offset="0.3056" stop-color="#6a1c81"/><stop offset="0.3230" stop-color="#9b2e7f"/><stop offset="0.3346" stop-color="#cf4070"/><stop offset="0.3433" stop-color="#ef5d5e"/><stop offset="0.3520" stop-color="#f7705c"/><stop offset="0.3607" stop-color="#eb5760"/><stop offset="0.3694" stop-color="#c03a76"/><stop offset="0.3810" stop-color="#892881"/><stop offset="0.3984" stop-color="#5d177f"/><stop offset="0.4245" stop-color="#400f74"/><stop offset="0.4681" stop-color="#2f1163"/><stop offset="0.4781" stop-color="#2c115f"/><stop offset="0.5406" stop-color="#271258"/><stop offset="0.6170" stop-color="#241253"/><stop offset="0.6422" stop-color="#241253"/><stop offset="0.7162" stop-color="#251255"/><stop offset="0.7757" stop-color="#2a115c"/><stop offset="0.8114" stop-color="#331067"/><stop offset="0.8164" stop-color="#341069"/><stop offset="0.8352" stop-color="#400f74"/><stop offset="0.8511" stop-color="#4c117a"/><stop offset="0.8630" stop-color="#56147d"/><stop offset="0.8749" stop-color="#5a167e"/><stop offset="0.8868" stop-color="#56147d"/><stop offset="0.8987" stop-color="#4c117a"/><stop offset="0.9146" stop-color="#3f0f72"/><stop offset="0.9384" stop-color="#331067"/><stop offset="0.9741" stop-color="#2a115c"/><stop offset="1.0000" stop-color="#271258"/></linearGradient><linearGradient id="c44" x1="0" y1="0" x2="0" y2="1"><stop offset="0.0000" stop-color="#271258"/><stop offset="0.0447" stop-color="#271258"/><stop offset="0.1483" stop-color="#2c115f"/><stop offset="0.2222" stop-color="#36106b"/><stop offset="0.2238" stop-color="#36106b"/><stop offset="0.2666" stop-color="#4a1079"/><stop offset="0.2932" stop-color="#681c81"/><stop offset="0.3110" stop-color="#942c80"/><stop offset="0.3228" stop-color="#c43c75"/><stop offset="0.3317" stop-color="#e55064"/><stop offset="0.3406" stop-color="#f05f5e"/><stop offset="0.3494" stop-color="#e04c67"/><stop offset="0.3583" stop-color="#b73779"/><stop offset="0.3702" stop-color="#842681"/><stop offset="0.3879" stop-color="#5c167f"/><stop offset="0.4145" stop-color="#420f75"/><stop offset="0.4589" stop-color="#331067"/><stop offset="0.4599" stop-color="#331067"/><stop offset="0.5329" stop-color="#2a115c"/><stop offset="0.5976" stop-color="#29115a"/><stop offset="0.6364" stop-color="#29115a"/><stop offset="0.6959" stop-color="#2a115c"/><stop offset="0.7550" stop-color="#311165"/><stop offset="0.7904" stop-color="#390f6e"/><stop offset="0.8139" stop-color="#471078"/><stop offset="0.8140" stop-color="#471078"/><stop offset="0.8297" stop-color="#56147d"/><stop offset="0.8415" stop-color="#601880"/><stop offset="0.8533" stop-color="#651a80"/><stop offset="0.8651" stop-color="#601880"/><stop offset="0.8769" stop-color="#56147d"/><stop offset="0.8927" stop-color="#471078"/><stop offset="0.9163" stop-color="#390f6e"/><stop offset="0.9517" stop-color="#2f1163"/><stop offset="1.0000" stop-color="#2a115c"/></linearGradient><linearGradient id="c45" x1="0" y1="0" x2="0" y2="1"><stop offset="0.0000" stop-color="#1e1149"/><stop offset="0.0261" stop-color="#1e1149"/><stop offset="0.1318" stop-color="#21114e"/><stop offset="0.2073" stop-color="#29115a"/><stop offset="0.2089" stop-color="#2a115c"/><stop offset="0.2525" stop-color="#3b0f70"/><stop offset="0.2797" stop-color="#57157e"/><stop offset="0.2978" stop-color="#7e2482"/><stop offset="0.3099" stop-color="#a8327d"/><stop offset="0.3190" stop-color="#c83e73"/><stop offset="0.3280" stop-color="#d6456c"/><stop offset="0.3371" stop-color="#c23b75"/><stop offset="0.3461" stop-color="#9b2e7f"/><stop offset="0.3582" stop-color="#701f81"/><stop offset="0.3763" stop-color="#4c117a"/><stop offset="0.4035" stop-color="#341069"/><stop offset="0.4426" stop-color="#271258"/><stop offset="0.4488" stop-color="#271258"/><stop offset="0.5243" stop-color="#21114e"/><stop offset="0.5790" stop-color="#20114b"/><stop offset="0.6299" stop-color="#20114b"/><stop offset="0.6764" stop-color="#21114e"/><stop offset="0.7348" stop-color="#271258"/><stop offset="0.7699" stop-color="#311165"/><stop offset="0.7932" stop-color="#400f74"/><stop offset="0.8088" stop-color="#51127c"/><stop offset="0.8111" stop-color="#52137c"/><stop offset="0.8205" stop-color="#5c167f"/><stop offset="0.8322" stop-color="#621980"/><stop offset="0.8439" stop-color="#5c167f"/><stop offset="0.8556" stop-color="#51127c"/><stop offset="0.8712" stop-color="#400f74"/><stop offset="0.8945" stop-color="#311165"/><stop offset="0.9296" stop-color="#271258"/><stop offset="0.9880" stop-color="#21114e"/><stop offset="1.0000" stop-color="#20114b"/></linearGradient><linearGradient id="c46" x1="0" y1="0" x2="0" y2="1"><stop offset="0.0000" stop-color="#251255"/><stop offset="0.0059" stop-color="#251255"/><stop offset="0.1138" stop-color="#29115a"/><stop offset="0.1909" stop-color="#2f1163"/><stop offset="0.1952" stop-color="#311165"/><stop offset="0.2372" stop-color="#3f0f72"/><stop offset="0.2649" stop-color="#56147d"/><stop offset="0.2834" stop-color="#762181"/><stop offset="0.2958" stop-color="#992d80"/><stop offset="0.3050" stop-color="#b5367a"/><stop offset="0.3143" stop-color="#c23b75"/><stop offset="0.3235" stop-color="#b0357b"/><stop offset="0.3328" stop-color="#902a81"/><stop offset="0.3451" stop-color="#6b1d81"/><stop offset="0.3636" stop-color="#4e117b"/><stop offset="0.3914" stop-color="#390f6e"/><stop offset="0.4264" stop-color="#2f1163"/><stop offset="0.4376" stop-color="#2d1161"/><stop offset="0.5147" stop-color="#29115a"/><stop offset="0.5612" stop-color="#271258"/><stop offset="0.6226" stop-color="#29115a"/><stop offset="0.6575" stop-color="#2a115c"/><stop offset="0.7153" stop-color="#311165"/><stop offset="0.7500" stop-color="#3d0f71"/><stop offset="0.7731" stop-color="#4e117b"/><stop offset="0.7885" stop-color="#5f187f"/><stop offset="0.8001" stop-color="#6b1d81"/><stop offset="0.8076" stop-color="#701f81"/><stop offset="0.8116" stop-color="#721f81"/><stop offset="0.8232" stop-color="#6b1d81"/><stop offset="0.8347" stop-color="#5f187f"/><stop offset="0.8502" stop-color="#4e117b"/><stop offset="0.8733" stop-color="#3d0f71"/><stop offset="0.9080" stop-color="#311165"/><stop offset="0.9657" stop-color="#29115a"/><stop offset="1.0000" stop-color="#271258"/></linearGradient><linearGradient id="c47" x1="0" y1="0" x2="0" y2="1"><stop offset="0.0000" stop-color="#221150"/><stop offset="0.0944" stop-color="#241253"/><stop offset="0.1732" stop-color="#2a115c"/><stop offset="0.1830" stop-color="#2c115f"/><stop offset="0.2204" stop-color="#36106b"/><stop offset="0.2488" stop-color="#491078"/><stop offset="0.2677" stop-color="#641a80"/><stop offset="0.2803" stop-color="#7e2482"/><stop offset="0.2898" stop-color="#942c80"/><stop offset="0.2992" stop-color="#9e2f7f"/><stop offset="0.3087" stop-color="#912b81"/><stop offset="0.3181" stop-color="#762181"/><stop offset="0.3307" stop-color="#5a167e"/><stop offset="0.3497" stop-color="#420f75"/><stop offset="0.3780" stop-color="#311165"/><stop offset="0.4112" stop-color="#2a115c"/><stop offset="0.4253" stop-color="#29115a"/><stop offset="0.5041" stop-color="#251255"/><stop offset="0.5444" stop-color="#251255"/><stop offset="0.6144" stop-color="#271258"/><stop offset="0.6395" stop-color="#271258"/><stop offset="0.6966" stop-color="#2f1163"/><stop offset="0.7308" stop-color="#3d0f71"/><stop offset="0.7536" stop-color="#4f127b"/><stop offset="0.7688" stop-color="#621980"/><stop offset="0.7803" stop-color="#701f81"/><stop offset="0.7917" stop-color="#762181"/><stop offset="0.8031" stop-color="#701f81"/><stop offset="0.8035" stop-color="#701f81"/><stop offset="0.8145" stop-color="#621980"/><stop offset="0.8297" stop-color="#4f127b"/><stop offset="0.8525" stop-color="#3d0f71"/><stop offset="0.8868" stop-color="#2f1163"/><stop offset="0.9439" stop-color="#271258"/><stop offset="1.0000" stop-color="#241253"/></linearGradient><linearGradient id="c48" x1="0" y1="0" x2="0" y2="1"><stop offset="0.0000" stop-color="#20114b"/><stop offset="0.0734" stop-color="#21114e"/><stop offset="0.1540" stop-color="#251255"/><stop offset="0.1723" stop-color="#271258"/><stop offset="0.2023" stop-color="#2d1161"/><stop offset="0.2313" stop-color="#3b0f70"/><stop offset="0.2506" stop-color="#4f127b"/><stop offset="0.2635" stop-color="#641a80"/><stop offset="0.2732" stop-color="#732081"/><stop offset="0.2829" stop-color="#792282"/><stop offset="0.2925" stop-color="#701f81"/><stop offset="0.3022" stop-color="#5f187f"/><stop offset="0.3151" stop-color="#491078"/><stop offset="0.3344" stop-color="#36106b"/><stop offset="0.3634" stop-color="#2a115c"/><stop offset="0.3973" stop-color="#251255"/><stop offset="0.4117" stop-color="#241253"/><stop offset="0.4923" stop-color="#221150"/><stop offset="0.5286" stop-color="#221150"/><stop offset="0.6050" stop-color="#241253"/><stop offset="0.6224" stop-color="#251255"/><stop offset="0.6786" stop-color="#2d1161"/><stop offset="0.7124" stop-color="#3d0f71"/><stop offset="0.7349" stop-color="#52137c"/><stop offset="0.7499" stop-color="#671b80"/><stop offset="0.7611" stop-color="#762181"/><stop offset="0.7724" stop-color="#7c2382"/><stop offset="0.7837" stop-color="#762181"/><stop offset="0.7949" stop-color="#671b80"/><stop offset="0.7983" stop-color="#601880"/><stop offset="0.8099" stop-color="#51127c"/><stop offset="0.8324" stop-color="#3d0f71"/><stop offset="0.8662" stop-color="#2d1161"/><stop offset="0.9224" stop-color="#251255"/><stop offset="1.0000" stop-color="#21114e"/></linearGradient><linearGradient id="c49" x1="0" y1="0" x2="0" y2="1"><stop offset="0.0000" stop-color="#29115a"/><stop offset="0.0510" stop-color="#29115a"/><stop offset="0.1334" stop-color="#2c115f"/><stop offset="0.1632" stop-color="#2f1163"/><stop offset="0.1828" stop-color="#311165"/><stop offset="0.2124" stop-color="#3b0f70"/><stop offset="0.2322" stop-color="#491078"/><stop offset="0.2453" stop-color="#57157e"/><stop offset="0.2552" stop-color="#601880"/><stop offset="0.2651" stop-color="#651a80"/><stop offset="0.2750" stop-color="#5f187f"/><stop offset="0.2849" stop-color="#52137c"/><stop offset="0.2980" stop-color="#440f76"/><stop offset="0.3178" stop-color="#38106c"/><stop offset="0.3474" stop-color="#2f1163"/><stop offset="0.3847" stop-color="#2c115f"/><stop offset="0.3968" stop-color="#2c115f"/><stop offset="0.4792" stop-color="#2a115c"/><stop offset="0.5139" stop-color="#2c115f"/><stop offset="0.5945" stop-color="#2f1163"/><stop offset="0.6062" stop-color="#2f1163"/><stop offset="0.6616" stop-color="#390f6e"/><stop offset="0.6948" stop-color="#4a1079"/><stop offset="0.7170" stop-color="#601880"/><stop offset="0.7317" stop-color="#762181"/><stop offset="0.7428" stop-color="#892881"/><stop offset="0.7539" stop-color="#912b81"/><stop offset="0.7650" stop-color="#892881"/><stop offset="0.7760" stop-color="#762181"/><stop offset="0.7908" stop-color="#601880"/><stop offset="0.7921" stop-color="#5d177f"/><stop offset="0.8129" stop-color="#4a1079"/><stop offset="0.8462" stop-color="#390f6e"/><stop offset="0.9015" stop-color="#2f1163"/><stop offset="0.9938" stop-color="#2a115c"/><stop offset="1.0000" stop-color="#2a115c"/></linearGradient><linearGradient id="c50" x1="0" y1="0" x2="0" y2="1"><stop offset="0.0000" stop-color="#241253"/><stop offset="0.0272" stop-color="#241253"/><stop offset="0.1113" stop-color="#251255"/><stop offset="0.1559" stop-color="#29115a"/><stop offset="0.1618" stop-color="#29115a"/><stop offset="0.1921" stop-color="#2f1163"/><stop offset="0.2123" stop-color="#38106c"/><stop offset="0.2258" stop-color="#400f74"/><stop offset="0.2359" stop-color="#471078"/><stop offset="0.2460" stop-color="#4a1079"/><stop offset="0.2560" stop-color="#451077"/><stop offset="0.2661" stop-color="#3d0f71"/><stop offset="0.2796" stop-color="#341069"/><stop offset="0.2998" stop-color="#2d1161"/><stop offset="0.3301" stop-color="#29115a"/><stop offset="0.3735" stop-color="#271258"/><stop offset="0.3806" stop-color="#251255"/><stop offset="0.4647" stop-color="#251255"/><stop offset="0.5005" stop-color="#271258"/><stop offset="0.5825" stop-color="#2a115c"/><stop offset="0.5911" stop-color="#2c115f"/><stop offset="0.6455" stop-color="#36106b"/><stop offset="0.6782" stop-color="#491078"/><stop offset="0.6999" stop-color="#621980"/><stop offset="0.7144" stop-color="#7b2382"/><stop offset="0.7253" stop-color="#902a81"/><stop offset="0.7362" stop-color="#982d80"/><stop offset="0.7471" stop-color="#902a81"/><stop offset="0.7580" stop-color="#7b2382"/><stop offset="0.7725" stop-color="#621980"/><stop offset="0.7845" stop-color="#52137c"/><stop offset="0.7942" stop-color="#491078"/><stop offset="0.8269" stop-color="#36106b"/><stop offset="0.8813" stop-color="#2c115f"/><stop offset="0.9719" stop-color="#251255"/><stop offset="1.0000" stop-color="#251255"/></linearGradient><linearGradient id="c51" x1="0" y1="0" x2="0" y2="1"><stop offset="0.0000" stop-color="#1d1147"/><stop offset="0.0020" stop-color="#1d1147"/><stop offset="0.0879" stop-color="#1e1149"/><stop offset="0.1395" stop-color="#20114b"/><stop offset="0.1503" stop-color="#21114e"/><stop offset="0.1704" stop-color="#221150"/><stop offset="0.1910" stop-color="#271258"/><stop offset="0.2048" stop-color="#2c115f"/><stop offset="0.2151" stop-color="#2f1163"/><stop offset="0.2254" stop-color="#311165"/><stop offset="0.2357" stop-color="#2f1163"/><stop offset="0.2460" stop-color="#2a115c"/><stop offset="0.2598" stop-color="#251255"/><stop offset="0.2804" stop-color="#221150"/><stop offset="0.3113" stop-color="#20114b"/><stop offset="0.3629" stop-color="#20114b"/><stop offset="0.3637" stop-color="#20114b"/><stop offset="0.4488" stop-color="#20114b"/><stop offset="0.4882" stop-color="#21114e"/><stop offset="0.5691" stop-color="#251255"/><stop offset="0.5771" stop-color="#251255"/><stop offset="0.6305" stop-color="#311165"/><stop offset="0.6625" stop-color="#451077"/><stop offset="0.6838" stop-color="#601880"/><stop offset="0.6981" stop-color="#7e2482"/><stop offset="0.7087" stop-color="#932b80"/><stop offset="0.7194" stop-color="#9e2f7f"/><stop offset="0.7301" stop-color="#932b80"/><stop offset="0.7408" stop-color="#7e2482"/><stop offset="0.7550" stop-color="#601880"/><stop offset="0.7753" stop-color="#471078"/><stop offset="0.7763" stop-color="#451077"/><stop offset="0.8083" stop-color="#311165"/><stop offset="0.8617" stop-color="#251255"/><stop offset="0.9506" stop-color="#20114b"/><stop offset="1.0000" stop-color="#20114b"/></linearGradient><linearGradient id="c52" x1="0" y1="0" x2="0" y2="1"><stop offset="0.0000" stop-color="#21114e"/><stop offset="0.0633" stop-color="#21114e"/><stop offset="0.1159" stop-color="#221150"/><stop offset="0.1463" stop-color="#241253"/><stop offset="0.1474" stop-color="#241253"/><stop offset="0.1685" stop-color="#251255"/><stop offset="0.1825" stop-color="#29115a"/><stop offset="0.1930" stop-color="#2a115c"/><stop offset="0.2035" stop-color="#2c115f"/><stop offset="0.2140" stop-color="#2a115c"/><stop offset="0.2246" stop-color="#29115a"/><stop offset="0.2386" stop-color="#251255"/><stop offset="0.2596" stop-color="#241253"/><stop offset="0.2912" stop-color="#221150"/><stop offset="0.3438" stop-color="#221150"/><stop offset="0.3553" stop-color="#221150"/><stop offset="0.4314" stop-color="#241253"/><stop offset="0.4772" stop-color="#251255"/><stop offset="0.5541" stop-color="#2a115c"/><stop offset="0.5643" stop-color="#2c115f"/><stop offset="0.6165" stop-color="#390f6e"/><stop offset="0.6479" stop-color="#4f127b"/><stop offset="0.6688" stop-color="#6d1d81"/><stop offset="0.6827" stop-color="#8b2981"/><stop offset="0.6931" stop-color="#a5317e"/><stop offset="0.7036" stop-color="#b0357b"/><stop offset="0.7140" stop-color="#a5317e"/><stop offset="0.7245" stop-color="#8b2981"/><stop offset="0.7384" stop-color="#6d1d81"/><stop offset="0.7593" stop-color="#4f127b"/><stop offset="0.7645" stop-color="#4a1079"/><stop offset="0.7907" stop-color="#390f6e"/><stop offset="0.8429" stop-color="#2c115f"/><stop offset="0.9300" stop-color="#241253"/><stop offset="1.0000" stop-color="#221150"/></linearGradient><linearGradient id="c53" x1="0" y1="0" x2="0" y2="1"><stop offset="0.0000" stop-color="#221150"/><stop offset="0.1439" stop-color="#251255"/><stop offset="0.3482" stop-color="#241253"/><stop offset="0.4674" stop-color="#271258"/><stop offset="0.5526" stop-color="#2d1161"/><stop offset="0.6037" stop-color="#3d0f71"/><stop offset="0.6343" stop-color="#54137d"/><stop offset="0.6547" stop-color="#752181"/><stop offset="0.6684" stop-color="#982d80"/><stop offset="0.6786" stop-color="#b3367a"/><stop offset="0.6888" stop-color="#bf3a77"/><stop offset="0.6990" stop-color="#b3367a"/><stop offset="0.7092" stop-color="#982d80"/><stop offset="0.7229" stop-color="#752181"/><stop offset="0.7433" stop-color="#54137d"/><stop offset="0.7739" stop-color="#3d0f71"/><stop offset="0.8250" stop-color="#2d1161"/><stop offset="0.9102" stop-color="#271258"/><stop offset="1.0000" stop-color="#241253"/></linearGradient><linearGradient id="c54" x1="0" y1="0" x2="0" y2="1"><stop offset="0.0000" stop-color="#20114b"/><stop offset="0.1428" stop-color="#221150"/><stop offset="0.3424" stop-color="#21114e"/><stop offset="0.4588" stop-color="#241253"/><stop offset="0.5420" stop-color="#2c115f"/><stop offset="0.5919" stop-color="#3d0f71"/><stop offset="0.6218" stop-color="#56147d"/><stop offset="0.6418" stop-color="#792282"/><stop offset="0.6551" stop-color="#a02f7f"/><stop offset="0.6651" stop-color="#bd3977"/><stop offset="0.6750" stop-color="#ca3e72"/><stop offset="0.6850" stop-color="#bd3977"/><stop offset="0.6950" stop-color="#a02f7f"/><stop offset="0.7083" stop-color="#792282"/><stop offset="0.7283" stop-color="#56147d"/><stop offset="0.7582" stop-color="#3d0f71"/><stop offset="0.8081" stop-color="#2c115f"/><stop offset="0.8913" stop-color="#241253"/><stop offset="1.0000" stop-color="#21114e"/></linearGradient><linearGradient id="c55" x1="0" y1="0" x2="0" y2="1"><stop offset="0.0000" stop-color="#221150"/><stop offset="0.1428" stop-color="#241253"/><stop offset="0.3377" stop-color="#241253"/><stop offset="0.4513" stop-color="#29115a"/><stop offset="0.5325" stop-color="#311165"/><stop offset="0.5812" stop-color="#420f75"/><stop offset="0.6104" stop-color="#5d177f"/><stop offset="0.6299" stop-color="#842681"/><stop offset="0.6429" stop-color="#ad347c"/><stop offset="0.6526" stop-color="#cd4071"/><stop offset="0.6624" stop-color="#db476a"/><stop offset="0.6721" stop-color="#cd4071"/><stop offset="0.6818" stop-color="#ad347c"/><stop offset="0.6948" stop-color="#842681"/><stop offset="0.7143" stop-color="#5d177f"/><stop offset="0.7435" stop-color="#420f75"/><stop offset="0.7922" stop-color="#311165"/><stop offset="0.8734" stop-color="#29115a"/><stop offset="0.9871" stop-color="#241253"/><stop offset="1.0000" stop-color="#241253"/></linearGradient><linearGradient id="c56" x1="0" y1="0" x2="0" y2="1"><stop offset="0.0000" stop-color="#21114e"/><stop offset="0.1437" stop-color="#21114e"/><stop offset="0.3338" stop-color="#221150"/><stop offset="0.4447" stop-color="#251255"/><stop offset="0.5240" stop-color="#2f1163"/><stop offset="0.5715" stop-color="#420f75"/><stop offset="0.6000" stop-color="#5f187f"/><stop offset="0.6190" stop-color="#892881"/><stop offset="0.6317" stop-color="#b5367a"/><stop offset="0.6412" stop-color="#d8456c"/><stop offset="0.6507" stop-color="#e44f64"/><stop offset="0.6602" stop-color="#d8456c"/><stop offset="0.6697" stop-color="#b5367a"/><stop offset="0.6824" stop-color="#892881"/><stop offset="0.7014" stop-color="#5f187f"/><stop offset="0.7299" stop-color="#420f75"/><stop offset="0.7775" stop-color="#2f1163"/><stop offset="0.8567" stop-color="#251255"/><stop offset="0.9676" stop-color="#221150"/><stop offset="1.0000" stop-color="#221150"/></linearGradient><linearGradient id="c57" x1="0" y1="0" x2="0" y2="1"><stop offset="0.0000" stop-color="#221150"/><stop offset="0.1452" stop-color="#221150"/><stop offset="0.3308" stop-color="#251255"/><stop offset="0.4390" stop-color="#29115a"/><stop offset="0.5164" stop-color="#331067"/><stop offset="0.5628" stop-color="#471078"/><stop offset="0.5906" stop-color="#671b80"/><stop offset="0.6092" stop-color="#932b80"/><stop offset="0.6216" stop-color="#c23b75"/><stop offset="0.6308" stop-color="#e44f64"/><stop offset="0.6401" stop-color="#ef5d5e"/><stop offset="0.6494" stop-color="#e44f64"/><stop offset="0.6587" stop-color="#c23b75"/><stop offset="0.6711" stop-color="#932b80"/><stop offset="0.6896" stop-color="#671b80"/><stop offset="0.7175" stop-color="#471078"/><stop offset="0.7639" stop-color="#331067"/><stop offset="0.8412" stop-color="#29115a"/><stop offset="0.9495" stop-color="#251255"/><stop offset="1.0000" stop-color="#241253"/></linearGradient><linearGradient id="c58" x1="0" y1="0" x2="0" y2="1"><stop offset="0.0000" stop-color="#251255"/><stop offset="0.1470" stop-color="#251255"/><stop offset="0.3283" stop-color="#271258"/><stop offset="0.4341" stop-color="#2c115f"/><stop offset="0.5096" stop-color="#38106c"/><stop offset="0.5550" stop-color="#4c117a"/><stop offset="0.5822" stop-color="#6d1d81"/><stop offset="0.6003" stop-color="#9c2e7f"/><stop offset="0.6124" stop-color="#cf4070"/><stop offset="0.6214" stop-color="#ee5b5e"/><stop offset="0.6305" stop-color="#f66e5c"/><stop offset="0.6396" stop-color="#ee5b5e"/><stop offset="0.6486" stop-color="#cf4070"/><stop offset="0.6607" stop-color="#9c2e7f"/><stop offset="0.6789" stop-color="#6d1d81"/><stop offset="0.7061" stop-color="#4c117a"/><stop offset="0.7514" stop-color="#38106c"/><stop offset="0.8269" stop-color="#2c115f"/><stop offset="0.9327" stop-color="#271258"/><stop offset="1.0000" stop-color="#271258"/></linearGradient><linearGradient id="c59" x1="0" y1="0" x2="0" y2="1"><stop offset="0.0000" stop-color="#1e1149"/><stop offset="0.1490" stop-color="#20114b"/><stop offset="0.3263" stop-color="#21114e"/><stop offset="0.4297" stop-color="#251255"/><stop offset="0.5036" stop-color="#311165"/><stop offset="0.5479" stop-color="#471078"/><stop offset="0.5745" stop-color="#681c81"/><stop offset="0.5923" stop-color="#9b2e7f"/><stop offset="0.6041" stop-color="#d0416f"/><stop offset="0.6130" stop-color="#f05f5e"/><stop offset="0.6218" stop-color="#f8745c"/><stop offset="0.6307" stop-color="#f05f5e"/><stop offset="0.6395" stop-color="#d0416f"/><stop offset="0.6514" stop-color="#9b2e7f"/><stop offset="0.6691" stop-color="#681c81"/><stop offset="0.6957" stop-color="#471078"/><stop offset="0.7400" stop-color="#311165"/><stop offset="0.8139" stop-color="#251255"/><stop offset="0.9173" stop-color="#21114e"/><stop offset="1.0000" stop-color="#20114b"/></linearGradient><linearGradient id="c60" x1="0" y1="0" x2="0" y2="1"><stop offset="0.0000" stop-color="#21114e"/><stop offset="0.1510" stop-color="#221150"/><stop offset="0.3246" stop-color="#241253"/><stop offset="0.4259" stop-color="#29115a"/><stop offset="0.4982" stop-color="#341069"/><stop offset="0.5416" stop-color="#4c117a"/><stop offset="0.5677" stop-color="#701f81"/><stop offset="0.5850" stop-color="#a3307e"/><stop offset="0.5966" stop-color="#db476a"/><stop offset="0.6053" stop-color="#f66c5c"/><stop offset="0.6140" stop-color="#fb835f"/><stop offset="0.6227" stop-color="#f66c5c"/><stop offset="0.6314" stop-color="#db476a"/><stop offset="0.6429" stop-color="#a3307e"/><stop offset="0.6603" stop-color="#701f81"/><stop offset="0.6863" stop-color="#4c117a"/><stop offset="0.7297" stop-color="#341069"/><stop offset="0.8021" stop-color="#29115a"/><stop offset="0.9034" stop-color="#241253"/><stop offset="1.0000" stop-color="#221150"/></linearGradient><linearGradient id="c61" x1="0" y1="0" x2="0" y2="1"><stop offset="0.0000" stop-color="#20114b"/><stop offset="0.1528" stop-color="#20114b"/><stop offset="0.3231" stop-color="#221150"/><stop offset="0.4225" stop-color="#271258"/><stop offset="0.4934" stop-color="#331067"/><stop offset="0.5360" stop-color="#4c117a"/><stop offset="0.5615" stop-color="#701f81"/><stop offset="0.5786" stop-color="#a6317d"/><stop offset="0.5899" stop-color="#df4a68"/><stop offset="0.5984" stop-color="#f8765c"/><stop offset="0.6069" stop-color="#fc8c63"/><stop offset="0.6155" stop-color="#f8765c"/><stop offset="0.6240" stop-color="#df4a68"/><stop offset="0.6353" stop-color="#a6317d"/><stop offset="0.6524" stop-color="#701f81"/><stop offset="0.6779" stop-color="#4c117a"/><stop offset="0.7205" stop-color="#331067"/><stop offset="0.7914" stop-color="#271258"/><stop offset="0.8908" stop-color="#221150"/><stop offset="1.0000" stop-color="#21114e"/></linearGradient><linearGradient id="c62" x1="0" y1="0" x2="0" y2="1"><stop offset="0.0000" stop-color="#21114e"/><stop offset="0.1545" stop-color="#221150"/><stop offset="0.3218" stop-color="#241253"/><stop offset="0.4194" stop-color="#29115a"/><stop offset="0.4891" stop-color="#36106b"/><stop offset="0.5309" stop-color="#4f127b"/><stop offset="0.5560" stop-color="#752181"/><stop offset="0.5727" stop-color="#ad347c"/><stop offset="0.5839" stop-color="#e75263"/><stop offset="0.5922" stop-color="#fa815f"/><stop offset="0.6006" stop-color="#fd9a6a"/><stop offset="0.6090" stop-color="#fa815f"/><stop offset="0.6173" stop-color="#e75263"/><stop offset="0.6285" stop-color="#ad347c"/><stop offset="0.6452" stop-color="#752181"/><stop offset="0.6703" stop-color="#4f127b"/><stop offset="0.7121" stop-color="#36106b"/><stop offset="0.7818" stop-color="#29115a"/><stop offset="0.8794" stop-color="#241253"/><stop offset="1.0000" stop-color="#221150"/></linearGradient><linearGradient id="c63" x1="0" y1="0" x2="0" y2="1"><stop offset="0.0000" stop-color="#1d1147"/><stop offset="0.1560" stop-color="#1e1149"/><stop offset="0.3206" stop-color="#20114b"/><stop offset="0.4166" stop-color="#241253"/><stop offset="0.4852" stop-color="#311165"/><stop offset="0.5263" stop-color="#4c117a"/><stop offset="0.5510" stop-color="#732081"/><stop offset="0.5675" stop-color="#ad347c"/><stop offset="0.5784" stop-color="#e85362"/><stop offset="0.5867" stop-color="#fb8560"/><stop offset="0.5949" stop-color="#fe9d6c"/><stop offset="0.6031" stop-color="#fb8560"/><stop offset="0.6114" stop-color="#e85362"/><stop offset="0.6223" stop-color="#ad347c"/><stop offset="0.6388" stop-color="#732081"/><stop offset="0.6635" stop-color="#4c117a"/><stop offset="0.7046" stop-color="#311165"/><stop offset="0.7732" stop-color="#241253"/><stop offset="0.8692" stop-color="#20114b"/><stop offset="1.0000" stop-color="#1e1149"/></linearGradient><linearGradient id="c64" x1="0" y1="0" x2="0" y2="1"><stop offset="0.0000" stop-color="#20114b"/><stop offset="0.1573" stop-color="#20114b"/><stop offset="0.3195" stop-color="#221150"/><stop offset="0.4141" stop-color="#271258"/><stop offset="0.4817" stop-color="#341069"/><stop offset="0.5222" stop-color="#4f127b"/><stop offset="0.5465" stop-color="#782281"/><stop offset="0.5627" stop-color="#b3367a"/><stop offset="0.5736" stop-color="#ec5860"/><stop offset="0.5817" stop-color="#fc8e64"/><stop offset="0.5898" stop-color="#fea973"/><stop offset="0.5979" stop-color="#fc8e64"/><stop offset="0.6060" stop-color="#ec5860"/><stop offset="0.6168" stop-color="#b3367a"/><stop offset="0.6330" stop-color="#782281"/><stop offset="0.6573" stop-color="#4f127b"/><stop offset="0.6979" stop-color="#341069"/><stop offset="0.7655" stop-color="#271258"/><stop offset="0.8601" stop-color="#221150"/><stop offset="1.0000" stop-color="#20114b"/></linearGradient><linearGradient id="c65" x1="0" y1="0" x2="0" y2="1"><stop offset="0.0000" stop-color="#20114b"/><stop offset="0.1584" stop-color="#21114e"/><stop offset="0.3184" stop-color="#241253"/><stop offset="0.4118" stop-color="#29115a"/><stop offset="0.4785" stop-color="#36106b"/><stop offset="0.5185" stop-color="#51127c"/><stop offset="0.5425" stop-color="#7b2382"/><stop offset="0.5585" stop-color="#b83779"/><stop offset="0.5691" stop-color="#f05f5e"/><stop offset="0.5771" stop-color="#fd9869"/><stop offset="0.5851" stop-color="#feb27a"/><stop offset="0.5932" stop-color="#fd9869"/><stop offset="0.6012" stop-color="#f05f5e"/><stop offset="0.6118" stop-color="#b83779"/><stop offset="0.6278" stop-color="#7b2382"/><stop offset="0.6518" stop-color="#51127c"/><stop offset="0.6918" stop-color="#36106b"/><stop offset="0.7585" stop-color="#29115a"/><stop offset="0.8519" stop-color="#241253"/><stop offset="1.0000" stop-color="#21114e"/></linearGradient><linearGradient id="c66" x1="0" y1="0" x2="0" y2="1"><stop offset="0.0000" stop-color="#241253"/><stop offset="0.1592" stop-color="#241253"/><stop offset="0.3174" stop-color="#271258"/><stop offset="0.4096" stop-color="#2c115f"/><stop offset="0.4755" stop-color="#3b0f70"/><stop offset="0.5151" stop-color="#56147d"/><stop offset="0.5388" stop-color="#802582"/><stop offset="0.5546" stop-color="#bf3a77"/><stop offset="0.5652" stop-color="#f4675c"/><stop offset="0.5731" stop-color="#fea16e"/><stop offset="0.5810" stop-color="#febd82"/><stop offset="0.5889" stop-color="#fea16e"/><stop offset="0.5968" stop-color="#f4675c"/><stop offset="0.6073" stop-color="#bf3a77"/><stop offset="0.6231" stop-color="#802582"/><stop offset="0.6469" stop-color="#56147d"/><stop offset="0.6864" stop-color="#3b0f70"/><stop offset="0.7523" stop-color="#2c115f"/><stop offset="0.8446" stop-color="#271258"/><stop offset="1.0000" stop-color="#241253"/></linearGradient><linearGradient id="c67" x1="0" y1="0" x2="0" y2="1"><stop offset="0.0000" stop-color="#241253"/><stop offset="0.1599" stop-color="#251255"/><stop offset="0.3164" stop-color="#29115a"/><stop offset="0.4077" stop-color="#2d1161"/><stop offset="0.4729" stop-color="#3d0f71"/><stop offset="0.5120" stop-color="#57157e"/><stop offset="0.5355" stop-color="#832681"/><stop offset="0.5511" stop-color="#c23b75"/><stop offset="0.5615" stop-color="#f66c5c"/><stop offset="0.5694" stop-color="#fea973"/><stop offset="0.5772" stop-color="#fec287"/><stop offset="0.5850" stop-color="#fea973"/><stop offset="0.5928" stop-color="#f66c5c"/><stop offset="0.6033" stop-color="#c23b75"/><stop offset="0.6189" stop-color="#832681"/><stop offset="0.6424" stop-color="#57157e"/><stop offset="0.6815" stop-color="#3d0f71"/><stop offset="0.7467" stop-color="#2d1161"/><stop offset="0.8380" stop-color="#29115a"/><stop offset="0.9945" stop-color="#251255"/><stop offset="1.0000" stop-color="#251255"/></linearGradient><linearGradient id="c68" x1="0" y1="0" x2="0" y2="1"><stop offset="0.0000" stop-color="#1d1147"/><stop offset="0.1604" stop-color="#1d1147"/><stop offset="0.3154" stop-color="#20114b"/><stop offset="0.4058" stop-color="#251255"/><stop offset="0.4704" stop-color="#331067"/><stop offset="0.5092" stop-color="#4f127b"/><stop offset="0.5324" stop-color="#7b2382"/><stop offset="0.5479" stop-color="#bc3978"/><stop offset="0.5583" stop-color="#f4675c"/><stop offset="0.5660" stop-color="#fea36f"/><stop offset="0.5738" stop-color="#febf84"/><stop offset="0.5815" stop-color="#fea36f"/><stop offset="0.5893" stop-color="#f4675c"/><stop offset="0.5996" stop-color="#bc3978"/><stop offset="0.6151" stop-color="#7b2382"/><stop offset="0.6384" stop-color="#4f127b"/><stop offset="0.6771" stop-color="#331067"/><stop offset="0.7417" stop-color="#251255"/><stop offset="0.8321" stop-color="#20114b"/><stop offset="0.9871" stop-color="#1d1147"/><stop offset="1.0000" stop-color="#1d1147"/></linearGradient><linearGradient id="c69" x1="0" y1="0" x2="0" y2="1"><stop offset="0.0000" stop-color="#1e1149"/><stop offset="0.1607" stop-color="#20114b"/><stop offset="0.3145" stop-color="#21114e"/><stop offset="0.4041" stop-color="#271258"/><stop offset="0.4682" stop-color="#36106b"/><stop offset="0.5066" stop-color="#52137c"/><stop offset="0.5297" stop-color="#7e2482"/><stop offset="0.5450" stop-color="#c03a76"/><stop offset="0.5553" stop-color="#f66c5c"/><stop offset="0.5630" stop-color="#fea973"/><stop offset="0.5706" stop-color="#fec488"/><stop offset="0.5783" stop-color="#fea973"/><stop offset="0.5860" stop-color="#f66c5c"/><stop offset="0.5963" stop-color="#c03a76"/><stop offset="0.6116" stop-color="#7e2482"/><stop offset="0.6347" stop-color="#52137c"/><stop offset="0.6731" stop-color="#36106b"/><stop offset="0.7372" stop-color="#271258"/><stop offset="0.8268" stop-color="#21114e"/><stop offset="0.9805" stop-color="#20114b"/><stop offset="1.0000" stop-color="#20114b"/></linearGradient><linearGradient id="c70" x1="0" y1="0" x2="0" y2="1"><stop offset="0.0000" stop-color="#221150"/><stop offset="0.1610" stop-color="#241253"/><stop offset="0.3135" stop-color="#271258"/><stop offset="0.4025" stop-color="#2c115f"/><stop offset="0.4661" stop-color="#3b0f70"/><stop offset="0.5042" stop-color="#59157e"/><stop offset="0.5271" stop-color="#842681"/><stop offset="0.5424" stop-color="#c73d73"/><stop offset="0.5525" stop-color="#f8745c"/><stop offset="0.5602" stop-color="#feb47b"/><stop offset="0.5678" stop-color="#fecf92"/><stop offset="0.5754" stop-color="#feb47b"/><stop offset="0.5831" stop-color="#f8745c"/><stop offset="0.5932" stop-color="#c73d73"/><stop offset="0.6085" stop-color="#842681"/><stop offset="0.6314" stop-color="#59157e"/><stop offset="0.6695" stop-color="#3b0f70"/><stop offset="0.7331" stop-color="#2c115f"/><stop offset="0.8221" stop-color="#271258"/><stop offset="0.9746" stop-color="#241253"/><stop offset="1.0000" stop-color="#241253"/></linearGradient><linearGradient id="c71" x1="0" y1="0" x2="0" y2="1"><stop offset="0.0000" stop-color="#1c1044"/><stop offset="0.1611" stop-color="#1c1044"/><stop offset="0.3127" stop-color="#1e1149"/><stop offset="0.4010" stop-color="#241253"/><stop offset="0.4642" stop-color="#331067"/><stop offset="0.5021" stop-color="#4f127b"/><stop offset="0.5248" stop-color="#7c2382"/><stop offset="0.5399" stop-color="#bf3a77"/><stop offset="0.5500" stop-color="#f66c5c"/><stop offset="0.5576" stop-color="#feac76"/><stop offset="0.5652" stop-color="#fec88c"/><stop offset="0.5728" stop-color="#feac76"/><stop offset="0.5804" stop-color="#f66c5c"/><stop offset="0.5905" stop-color="#bf3a77"/><stop offset="0.6056" stop-color="#7c2382"/><stop offset="0.6283" stop-color="#4f127b"/><stop offset="0.6662" stop-color="#331067"/><stop offset="0.7293" stop-color="#241253"/><stop offset="0.8177" stop-color="#1e1149"/><stop offset="0.9693" stop-color="#1c1044"/><stop offset="1.0000" stop-color="#1c1044"/></linearGradient><linearGradient id="c72" x1="0" y1="0" x2="0" y2="1"><stop offset="0.0000" stop-color="#20114b"/><stop offset="0.1612" stop-color="#20114b"/><stop offset="0.3118" stop-color="#221150"/><stop offset="0.3997" stop-color="#29115a"/><stop offset="0.4624" stop-color="#38106c"/><stop offset="0.5001" stop-color="#56147d"/><stop offset="0.5227" stop-color="#832681"/><stop offset="0.5377" stop-color="#c73d73"/><stop offset="0.5478" stop-color="#f8765c"/><stop offset="0.5553" stop-color="#feb47b"/><stop offset="0.5628" stop-color="#fed194"/><stop offset="0.5703" stop-color="#feb47b"/><stop offset="0.5779" stop-color="#f8765c"/><stop offset="0.5879" stop-color="#c73d73"/><stop offset="0.6030" stop-color="#832681"/><stop offset="0.6256" stop-color="#56147d"/><stop offset="0.6632" stop-color="#38106c"/><stop offset="0.7260" stop-color="#29115a"/><stop offset="0.8138" stop-color="#221150"/><stop offset="0.9644" stop-color="#20114b"/><stop offset="1.0000" stop-color="#20114b"/></linearGradient><linearGradient id="c73" x1="0" y1="0" x2="0" y2="1"><stop offset="0.0000" stop-color="#21114e"/><stop offset="0.1612" stop-color="#21114e"/><stop offset="0.3110" stop-color="#241253"/><stop offset="0.3983" stop-color="#2a115c"/><stop offset="0.4608" stop-color="#390f6e"/><stop offset="0.4982" stop-color="#57157e"/><stop offset="0.5207" stop-color="#842681"/><stop offset="0.5357" stop-color="#c83e73"/><stop offset="0.5456" stop-color="#f9795d"/><stop offset="0.5531" stop-color="#feb97f"/><stop offset="0.5606" stop-color="#fed597"/><stop offset="0.5681" stop-color="#feb97f"/><stop offset="0.5756" stop-color="#f9795d"/><stop offset="0.5856" stop-color="#c83e73"/><stop offset="0.6006" stop-color="#842681"/><stop offset="0.6230" stop-color="#57157e"/><stop offset="0.6605" stop-color="#390f6e"/><stop offset="0.7229" stop-color="#2a115c"/><stop offset="0.8103" stop-color="#241253"/><stop offset="0.9601" stop-color="#21114e"/><stop offset="1.0000" stop-color="#21114e"/></linearGradient><linearGradient id="c74" x1="0" y1="0" x2="0" y2="1"><stop offset="0.0000" stop-color="#251255"/><stop offset="0.1611" stop-color="#251255"/><stop offset="0.3102" stop-color="#29115a"/><stop offset="0.3971" stop-color="#2f1163"/><stop offset="0.4592" stop-color="#3f0f72"/><stop offset="0.4965" stop-color="#5c167f"/><stop offset="0.5189" stop-color="#892881"/><stop offset="0.5338" stop-color="#cf4070"/><stop offset="0.5437" stop-color="#fa7f5e"/><stop offset="0.5512" stop-color="#fec185"/><stop offset="0.5586" stop-color="#fddc9e"/><stop offset="0.5661" stop-color="#fec185"/><stop offset="0.5735" stop-color="#fa7f5e"/><stop offset="0.5834" stop-color="#cf4070"/><stop offset="0.5984" stop-color="#892881"/><stop offset="0.6207" stop-color="#5c167f"/><stop offset="0.6580" stop-color="#3f0f72"/><stop offset="0.7201" stop-color="#2f1163"/><stop offset="0.8070" stop-color="#29115a"/><stop offset="0.9561" stop-color="#251255"/><stop offset="1.0000" stop-color="#251255"/></linearGradient><linearGradient id="c75" x1="0" y1="0" x2="0" y2="1"><stop offset="0.0000" stop-color="#221150"/><stop offset="0.1610" stop-color="#241253"/><stop offset="0.3094" stop-color="#271258"/><stop offset="0.3960" stop-color="#2d1161"/><stop offset="0.4578" stop-color="#3d0f71"/><stop offset="0.4949" stop-color="#5a167e"/><stop offset="0.5172" stop-color="#882781"/><stop offset="0.5320" stop-color="#cd4071"/><stop offset="0.5419" stop-color="#fa7f5e"/><stop offset="0.5493" stop-color="#fec185"/><stop offset="0.5567" stop-color="#fddc9e"/><stop offset="0.5642" stop-color="#fec185"/><stop offset="0.5716" stop-color="#fa7f5e"/><stop offset="0.5815" stop-color="#cd4071"/><stop offset="0.5963" stop-color="#882781"/><stop offset="0.6186" stop-color="#5a167e"/><stop offset="0.6557" stop-color="#3d0f71"/><stop offset="0.7175" stop-color="#2d1161"/><stop offset="0.8041" stop-color="#271258"/><stop offset="0.9525" stop-color="#241253"/><stop offset="1.0000" stop-color="#241253"/></linearGradient><linearGradient id="c76" x1="0" y1="0" x2="0" y2="1"><stop offset="0.0000" stop-color="#20114b"/><stop offset="0.1608" stop-color="#21114e"/><stop offset="0.3086" stop-color="#241253"/><stop offset="0.3949" stop-color="#29115a"/><stop offset="0.4565" stop-color="#390f6e"/><stop offset="0.4934" stop-color="#57157e"/><stop offset="0.5156" stop-color="#862781"/><stop offset="0.5304" stop-color="#cc3f71"/><stop offset="0.5402" stop-color="#fa7d5e"/><stop offset="0.5476" stop-color="#febf84"/><stop offset="0.5550" stop-color="#fdda9c"/><stop offset="0.5624" stop-color="#febf84"/><stop offset="0.5698" stop-color="#fa7d5e"/><stop offset="0.5797" stop-color="#cc3f71"/><stop offset="0.5944" stop-color="#862781"/><stop offset="0.6166" stop-color="#57157e"/><stop offset="0.6536" stop-color="#390f6e"/><stop offset="0.7152" stop-color="#29115a"/><stop offset="0.8014" stop-color="#241253"/><stop offset="0.9492" stop-color="#21114e"/><stop offset="1.0000" stop-color="#20114b"/></linearGradient><linearGradient id="c77" x1="0" y1="0" x2="0" y2="1"><stop offset="0.0000" stop-color="#20114b"/><stop offset="0.1606" stop-color="#21114e"/><stop offset="0.3079" stop-color="#221150"/><stop offset="0.3938" stop-color="#29115a"/><stop offset="0.4552" stop-color="#390f6e"/><stop offset="0.4920" stop-color="#57157e"/><stop offset="0.5141" stop-color="#862781"/><stop offset="0.5289" stop-color="#cc3f71"/><stop offset="0.5387" stop-color="#fa7d5e"/><stop offset="0.5461" stop-color="#febf84"/><stop offset="0.5534" stop-color="#fddc9e"/><stop offset="0.5608" stop-color="#febf84"/><stop offset="0.5681" stop-color="#fa7d5e"/><stop offset="0.5780" stop-color="#cc3f71"/><stop offset="0.5927" stop-color="#862781"/><stop offset="0.6148" stop-color="#57157e"/><stop offset="0.6516" stop-color="#390f6e"/><stop offset="0.7130" stop-color="#29115a"/><stop offset="0.7989" stop-color="#221150"/><stop offset="0.9462" stop-color="#21114e"/><stop offset="1.0000" stop-color="#20114b"/></linearGradient><linearGradient id="c78" x1="0" y1="0" x2="0" y2="1"><stop offset="0.0000" stop-color="#20114b"/><stop offset="0.1604" stop-color="#21114e"/><stop offset="0.3072" stop-color="#241253"/><stop offset="0.3929" stop-color="#2a115c"/><stop offset="0.4541" stop-color="#390f6e"/><stop offset="0.4908" stop-color="#57157e"/><stop offset="0.5128" stop-color="#862781"/><stop offset="0.5275" stop-color="#cd4071"/><stop offset="0.5372" stop-color="#fa7f5e"/><stop offset="0.5446" stop-color="#fec185"/><stop offset="0.5519" stop-color="#fddea0"/><stop offset="0.5593" stop-color="#fec185"/><stop offset="0.5666" stop-color="#fa7f5e"/><stop offset="0.5764" stop-color="#cd4071"/><stop offset="0.5911" stop-color="#862781"/><stop offset="0.6131" stop-color="#57157e"/><stop offset="0.6498" stop-color="#390f6e"/><stop offset="0.7110" stop-color="#2a115c"/><stop offset="0.7966" stop-color="#241253"/><stop offset="0.9434" stop-color="#21114e"/><stop offset="1.0000" stop-color="#21114e"/></linearGradient><linearGradient id="c79" x1="0" y1="0" x2="0" y2="1"><stop offset="0.0000" stop-color="#251255"/><stop offset="0.1602" stop-color="#271258"/><stop offset="0.3066" stop-color="#2a115c"/><stop offset="0.3920" stop-color="#2f1163"/><stop offset="0.4530" stop-color="#400f74"/><stop offset="0.4895" stop-color="#5d177f"/><stop offset="0.5115" stop-color="#8c2981"/><stop offset="0.5261" stop-color="#d3436e"/><stop offset="0.5359" stop-color="#fc8961"/><stop offset="0.5432" stop-color="#feca8d"/><stop offset="0.5505" stop-color="#fde7a9"/><stop offset="0.5579" stop-color="#feca8d"/><stop offset="0.5652" stop-color="#fc8961"/><stop offset="0.5749" stop-color="#d3436e"/><stop offset="0.5896" stop-color="#8c2981"/><stop offset="0.6115" stop-color="#5d177f"/><stop offset="0.6481" stop-color="#400f74"/><stop offset="0.7091" stop-color="#2f1163"/><stop offset="0.7945" stop-color="#2a115c"/><stop offset="0.9409" stop-color="#271258"/><stop offset="1.0000" stop-color="#251255"/></linearGradient><linearGradient id="c80" x1="0" y1="0" x2="0" y2="1"><stop offset="0.0000" stop-color="#20114b"/><stop offset="0.1599" stop-color="#21114e"/><stop offset="0.3059" stop-color="#221150"/><stop offset="0.3911" stop-color="#29115a"/><stop offset="0.4519" stop-color="#390f6e"/><stop offset="0.4884" stop-color="#57157e"/><stop offset="0.5103" stop-color="#862781"/><stop offset="0.5249" stop-color="#cd4071"/><stop offset="0.5346" stop-color="#fa815f"/><stop offset="0.5419" stop-color="#fec287"/><stop offset="0.5492" stop-color="#fde0a1"/><stop offset="0.5565" stop-color="#fec287"/><stop offset="0.5638" stop-color="#fa815f"/><stop offset="0.5736" stop-color="#cd4071"/><stop offset="0.5882" stop-color="#862781"/><stop offset="0.6101" stop-color="#57157e"/><stop offset="0.6466" stop-color="#390f6e"/><stop offset="0.7074" stop-color="#29115a"/><stop offset="0.7926" stop-color="#221150"/><stop offset="0.9386" stop-color="#21114e"/><stop offset="1.0000" stop-color="#20114b"/></linearGradient><linearGradient id="c81" x1="0" y1="0" x2="0" y2="1"><stop offset="0.0000" stop-color="#20114b"/><stop offset="0.1597" stop-color="#21114e"/><stop offset="0.3053" stop-color="#241253"/><stop offset="0.3903" stop-color="#2a115c"/><stop offset="0.4509" stop-color="#390f6e"/><stop offset="0.4874" stop-color="#59157e"/><stop offset="0.5092" stop-color="#882781"/><stop offset="0.5238" stop-color="#cf4070"/><stop offset="0.5335" stop-color="#fb835f"/><stop offset="0.5408" stop-color="#fec488"/><stop offset="0.5480" stop-color="#fde2a3"/><stop offset="0.5553" stop-color="#fec488"/><stop offset="0.5626" stop-color="#fb835f"/><stop offset="0.5723" stop-color="#cf4070"/><stop offset="0.5869" stop-color="#882781"/><stop offset="0.6087" stop-color="#59157e"/><stop offset="0.6451" stop-color="#390f6e"/><stop offset="0.7058" stop-color="#2a115c"/><stop offset="0.7908" stop-color="#241253"/><stop offset="0.9364" stop-color="#21114e"/><stop offset="1.0000" stop-color="#20114b"/></linearGradient><linearGradient id="c82" x1="0" y1="0" x2="0" y2="1"><stop offset="0.0000" stop-color="#221150"/><stop offset="0.1594" stop-color="#221150"/><stop offset="0.3047" stop-color="#251255"/><stop offset="0.3895" stop-color="#2c115f"/><stop offset="0.4500" stop-color="#3d0f71"/><stop offset="0.4864" stop-color="#5a167e"/><stop offset="0.5081" stop-color="#892881"/><stop offset="0.5227" stop-color="#d0416f"/><stop offset="0.5324" stop-color="#fb8761"/><stop offset="0.5396" stop-color="#fec88c"/><stop offset="0.5469" stop-color="#fde5a7"/><stop offset="0.5542" stop-color="#fec88c"/><stop offset="0.5614" stop-color="#fb8761"/><stop offset="0.5711" stop-color="#d0416f"/><stop offset="0.5856" stop-color="#892881"/><stop offset="0.6074" stop-color="#5a167e"/><stop offset="0.6438" stop-color="#3d0f71"/><stop offset="0.7043" stop-color="#2c115f"/><stop offset="0.7891" stop-color="#251255"/><stop offset="0.9344" stop-color="#221150"/><stop offset="1.0000" stop-color="#221150"/></linearGradient><linearGradient id="c83" x1="0" y1="0" x2="0" y2="1"><stop offset="0.0000" stop-color="#21114e"/><stop offset="0.1591" stop-color="#21114e"/><stop offset="0.3041" stop-color="#241253"/><stop offset="0.3887" stop-color="#2a115c"/><stop offset="0.4492" stop-color="#3b0f70"/><stop offset="0.4854" stop-color="#59157e"/><stop offset="0.5072" stop-color="#892881"/><stop offset="0.5217" stop-color="#d0416f"/><stop offset="0.5313" stop-color="#fb8560"/><stop offset="0.5386" stop-color="#fec88c"/><stop offset="0.5458" stop-color="#fde5a7"/><stop offset="0.5531" stop-color="#fec88c"/><stop offset="0.5603" stop-color="#fb8560"/><stop offset="0.5700" stop-color="#d0416f"/><stop offset="0.5845" stop-color="#892881"/><stop offset="0.6063" stop-color="#59157e"/><stop offset="0.6425" stop-color="#3b0f70"/><stop offset="0.7029" stop-color="#2a115c"/><stop offset="0.7875" stop-color="#241253"/><stop offset="0.9325" stop-color="#21114e"/><stop offset="1.0000" stop-color="#21114e"/></linearGradient><linearGradient id="c84" x1="0" y1="0" x2="0" y2="1"><stop offset="0.0000" stop-color="#20114b"/><stop offset="0.1589" stop-color="#21114e"/><stop offset="0.3036" stop-color="#241253"/><stop offset="0.3880" stop-color="#2a115c"/><stop offset="0.4483" stop-color="#390f6e"/><stop offset="0.4845" stop-color="#59157e"/><stop offset="0.5062" stop-color="#892881"/><stop offset="0.5207" stop-color="#d0416f"/><stop offset="0.5304" stop-color="#fb8560"/><stop offset="0.5376" stop-color="#fec88c"/><stop offset="0.5448" stop-color="#fde5a7"/><stop offset="0.5521" stop-color="#fec88c"/><stop offset="0.5593" stop-color="#fb8560"/><stop offset="0.5690" stop-color="#d0416f"/><stop offset="0.5834" stop-color="#892881"/><stop offset="0.6051" stop-color="#59157e"/><stop offset="0.6413" stop-color="#390f6e"/><stop offset="0.7016" stop-color="#2a115c"/><stop offset="0.7861" stop-color="#241253"/><stop offset="0.9308" stop-color="#21114e"/><stop offset="1.0000" stop-color="#21114e"/></linearGradient><linearGradient id="c85" x1="0" y1="0" x2="0" y2="1"><stop offset="0.0000" stop-color="#1d1147"/><stop offset="0.1586" stop-color="#1e1149"/><stop offset="0.3031" stop-color="#21114e"/><stop offset="0.3874" stop-color="#271258"/><stop offset="0.4476" stop-color="#38106c"/><stop offset="0.4837" stop-color="#56147d"/><stop offset="0.5054" stop-color="#862781"/><stop offset="0.5198" stop-color="#cd4071"/><stop offset="0.5294" stop-color="#fb835f"/><stop offset="0.5367" stop-color="#fec68a"/><stop offset="0.5439" stop-color="#fde3a5"/><stop offset="0.5511" stop-color="#fec68a"/><stop offset="0.5583" stop-color="#fb835f"/><stop offset="0.5680" stop-color="#cd4071"/><stop offset="0.5824" stop-color="#862781"/><stop offset="0.6041" stop-color="#56147d"/><stop offset="0.6402" stop-color="#38106c"/><stop offset="0.7004" stop-color="#271258"/><stop offset="0.7847" stop-color="#21114e"/><stop offset="0.9292" stop-color="#1e1149"/><stop offset="1.0000" stop-color="#1e1149"/></linearGradient><linearGradient id="c86" x1="0" y1="0" x2="0" y2="1"><stop offset="0.0000" stop-color="#21114e"/><stop offset="0.1583" stop-color="#21114e"/><stop offset="0.3026" stop-color="#241253"/><stop offset="0.3867" stop-color="#2a115c"/><stop offset="0.4468" stop-color="#3b0f70"/><stop offset="0.4829" stop-color="#5a167e"/><stop offset="0.5045" stop-color="#892881"/><stop offset="0.5189" stop-color="#d2426f"/><stop offset="0.5286" stop-color="#fb8761"/><stop offset="0.5358" stop-color="#feca8d"/><stop offset="0.5430" stop-color="#fde9aa"/><stop offset="0.5502" stop-color="#feca8d"/><stop offset="0.5574" stop-color="#fb8761"/><stop offset="0.5670" stop-color="#d2426f"/><stop offset="0.5815" stop-color="#892881"/><stop offset="0.6031" stop-color="#5a167e"/><stop offset="0.6392" stop-color="#3b0f70"/><stop offset="0.6993" stop-color="#2a115c"/><stop offset="0.7834" stop-color="#241253"/><stop offset="0.9277" stop-color="#21114e"/><stop offset="1.0000" stop-color="#21114e"/></linearGradient><linearGradient id="cb" x1="0" y1="0" x2="1" y2="0"><stop offset="0.0000" stop-color="#000004"/><stop offset="0.0625" stop-color="#0a0822"/><stop offset="0.1250" stop-color="#1d1147"/><stop offset="0.1875" stop-color="#36106b"/><stop offset="0.2500" stop-color="#51127c"/><stop offset="0.3125" stop-color="#6a1c81"/><stop offset="0.3750" stop-color="#832681"/><stop offset="0.4375" stop-color="#9c2e7f"/><stop offset="0.5000" stop-color="#b73779"/><stop offset="0.5625" stop-color="#d0416f"/><stop offset="0.6250" stop-color="#e75263"/><stop offset="0.6875" stop-color="#f56b5c"/><stop offset="0.7500" stop-color="#fc8961"/><stop offset="0.8125" stop-color="#fea772"/><stop offset="0.8750" stop-color="#fec488"/><stop offset="0.9375" stop-color="#fde2a3"/><stop offset="1.0000" stop-color="#fcfdbf"/></linearGradient><filter id="bl" x="-2%" y="-2%" width="104%" height="104%"><feGaussianBlur stdDeviation="0.7"/></filter><clipPath id="hm"><rect x="52.4" y="233.6" width="172.1" height="166.9"/></clipPath></defs>
<rect x="52.4" y="233.6" width="172.1" height="166.9" fill="#331067"/>
<g clip-path="url(#hm)"><g filter="url(#bl)"><rect x="52.00" y="233.6" width="2.00" height="166.9" fill="url(#c0)"/><rect x="54.00" y="233.6" width="2.00" height="166.9" fill="url(#c1)"/><rect x="56.00" y="233.6" width="2.00" height="166.9" fill="url(#c2)"/><rect x="58.00" y="233.6" width="2.00" height="166.9" fill="url(#c3)"/><rect x="60.00" y="233.6" width="2.00" height="166.9" fill="url(#c4)"/><rect x="62.00" y="233.6" width="2.00" height="166.9" fill="url(#c5)"/><rect x="64.00" y="233.6" width="2.00" height="166.9" fill="url(#c6)"/><rect x="66.00" y="233.6" width="2.00" height="166.9" fill="url(#c7)"/><rect x="68.00" y="233.6" width="2.00" height="166.9" fill="url(#c8)"/><rect x="70.00" y="233.6" width="2.00" height="166.9" fill="url(#c9)"/><rect x="72.00" y="233.6" width="2.00" height="166.9" fill="url(#c10)"/><rect x="74.00" y="233.6" width="2.00" height="166.9" fill="url(#c11)"/><rect x="76.00" y="233.6" width="2.00" height="166.9" fill="url(#c12)"/><rect x="78.00" y="233.6" width="2.00" height="166.9" fill="url(#c13)"/><rect x="80.00" y="233.6" width="2.00" height="166.9" fill="url(#c14)"/><rect x="82.00" y="233.6" width="2.00" height="166.9" fill="url(#c15)"/><rect x="84.00" y="233.6" width="2.00" height="166.9" fill="url(#c16)"/><rect x="86.00" y="233.6" width="2.00" height="166.9" fill="url(#c17)"/><rect x="88.00" y="233.6" width="2.00" height="166.9" fill="url(#c18)"/><rect x="90.00" y="233.6" width="2.00" height="166.9" fill="url(#c19)"/><rect x="92.00" y="233.6" width="2.00" height="166.9" fill="url(#c20)"/><rect x="94.00" y="233.6" width="2.00" height="166.9" fill="url(#c21)"/><rect x="96.00" y="233.6" width="2.00" height="166.9" fill="url(#c22)"/><rect x="98.00" y="233.6" width="2.00" height="166.9" fill="url(#c23)"/><rect x="100.00" y="233.6" width="2.00" height="166.9" fill="url(#c24)"/><rect x="102.00" y="233.6" width="2.00" height="166.9" fill="url(#c25)"/><rect x="104.00" y="233.6" width="2.00" height="166.9" fill="url(#c26)"/><rect x="106.00" y="233.6" width="2.00" height="166.9" fill="url(#c27)"/><rect x="108.00" y="233.6" width="2.00" height="166.9" fill="url(#c28)"/><rect x="110.00" y="233.6" width="2.00" height="166.9" fill="url(#c29)"/><rect x="112.00" y="233.6" width="2.00" height="166.9" fill="url(#c30)"/><rect x="114.00" y="233.6" width="2.00" height="166.9" fill="url(#c31)"/><rect x="116.00" y="233.6" width="2.00" height="166.9" fill="url(#c32)"/><rect x="118.00" y="233.6" width="2.00" height="166.9" fill="url(#c33)"/><rect x="120.00" y="233.6" width="2.00" height="166.9" fill="url(#c34)"/><rect x="122.00" y="233.6" width="2.00" height="166.9" fill="url(#c35)"/><rect x="124.00" y="233.6" width="2.00" height="166.9" fill="url(#c36)"/><rect x="126.00" y="233.6" width="2.00" height="166.9" fill="url(#c37)"/><rect x="128.00" y="233.6" width="2.00" height="166.9" fill="url(#c38)"/><rect x="130.00" y="233.6" width="2.00" height="166.9" fill="url(#c39)"/><rect x="132.00" y="233.6" width="2.00" height="166.9" fill="url(#c40)"/><rect x="134.00" y="233.6" width="2.00" height="166.9" fill="url(#c41)"/><rect x="136.00" y="233.6" width="2.00" height="166.9" fill="url(#c42)"/><rect x="138.00" y="233.6" width="2.00" height="166.9" fill="url(#c43)"/><rect x="140.00" y="233.6" width="2.00" height="166.9" fill="url(#c44)"/><rect x="142.00" y="233.6" width="2.00" height="166.9" fill="url(#c45)"/><rect x="144.00" y="233.6" width="2.00" height="166.9" fill="url(#c46)"/><rect x="146.00" y="233.6" width="2.00" height="166.9" fill="url(#c47)"/><rect x="148.00" y="233.6" width="2.00" height="166.9" fill="url(#c48)"/><rect x="150.00" y="233.6" width="2.00" height="166.9" fill="url(#c49)"/><rect x="152.00" y="233.6" width="2.00" height="166.9" fill="url(#c50)"/><rect x="154.00" y="233.6" width="2.00" height="166.9" fill="url(#c51)"/><rect x="156.00" y="233.6" width="2.00" height="166.9" fill="url(#c52)"/><rect x="158.00" y="233.6" width="2.00" height="166.9" fill="url(#c53)"/><rect x="160.00" y="233.6" width="2.00" height="166.9" fill="url(#c54)"/><rect x="162.00" y="233.6" width="2.00" height="166.9" fill="url(#c55)"/><rect x="164.00" y="233.6" width="2.00" height="166.9" fill="url(#c56)"/><rect x="166.00" y="233.6" width="2.00" height="166.9" fill="url(#c57)"/><rect x="168.00" y="233.6" width="2.00" height="166.9" fill="url(#c58)"/><rect x="170.00" y="233.6" width="2.00" height="166.9" fill="url(#c59)"/><rect x="172.00" y="233.6" width="2.00" height="166.9" fill="url(#c60)"/><rect x="174.00" y="233.6" width="2.00" height="166.9" fill="url(#c61)"/><rect x="176.00" y="233.6" width="2.00" height="166.9" fill="url(#c62)"/><rect x="178.00" y="233.6" width="2.00" height="166.9" fill="url(#c63)"/><rect x="180.00" y="233.6" width="2.00" height="166.9" fill="url(#c64)"/><rect x="182.00" y="233.6" width="2.00" height="166.9" fill="url(#c65)"/><rect x="184.00" y="233.6" width="2.00" height="166.9" fill="url(#c66)"/><rect x="186.00" y="233.6" width="2.00" height="166.9" fill="url(#c67)"/><rect x="188.00" y="233.6" width="2.00" height="166.9" fill="url(#c68)"/><rect x="190.00" y="233.6" width="2.00" height="166.9" fill="url(#c69)"/><rect x="192.00" y="233.6" width="2.00" height="166.9" fill="url(#c70)"/><rect x="194.00" y="233.6" width="2.00" height="166.9" fill="url(#c71)"/><rect x="196.00" y="233.6" width="2.00" height="166.9" fill="url(#c72)"/><rect x="198.00" y="233.6" width="2.00" height="166.9" fill="url(#c73)"/><rect x="200.00" y="233.6" width="2.00" height="166.9" fill="url(#c74)"/><rect x="202.00" y="233.6" width="2.00" height="166.9" fill="url(#c75)"/><rect x="204.00" y="233.6" width="2.00" height="166.9" fill="url(#c76)"/><rect x="206.00" y="233.6" width="2.00" height="166.9" fill="url(#c77)"/><rect x="208.00" y="233.6" width="2.00" height="166.9" fill="url(#c78)"/><rect x="210.00" y="233.6" width="2.00" height="166.9" fill="url(#c79)"/><rect x="212.00" y="233.6" width="2.00" height="166.9" fill="url(#c80)"/><rect x="214.00" y="233.6" width="2.00" height="166.9" fill="url(#c81)"/><rect x="216.00" y="233.6" width="2.00" height="166.9" fill="url(#c82)"/><rect x="218.00" y="233.6" width="2.00" height="166.9" fill="url(#c83)"/><rect x="220.00" y="233.6" width="2.00" height="166.9" fill="url(#c84)"/><rect x="222.00" y="233.6" width="2.00" height="166.9" fill="url(#c85)"/><rect x="224.00" y="233.6" width="2.00" height="166.9" fill="url(#c86)"/></g>
<line x1="52.4" y1="318.8" x2="224.5" y2="318.8" stroke="#fbeaf4" stroke-width="1.9" stroke-dasharray="5 5.05" stroke-dashoffset="-1.8"/>
<line x1="172.6" y1="233.6" x2="120.3" y2="396" stroke="#fbeef6" stroke-width="2.1" stroke-dasharray="5.3 5.0"/>
</g>
<rect x="52.4" y="233.6" width="172.1" height="166.9" fill="none" stroke="#1a1a1a" stroke-width="0.8"/>
<text x="172.3" y="260" font-size="14.5" text-anchor="start" fill="#f4eef6" stroke="#f4eef6" stroke-width="0" textLength="32" lengthAdjust="spacingAndGlyphs" >FMR</text>
<text x="56" y="333.2" font-size="14" text-anchor="start" fill="#e6d4f2" stroke="#e6d4f2" stroke-width="0" textLength="35.7" lengthAdjust="spacingAndGlyphs" >Qubit</text>
<rect x="57" y="219.1" width="162.5" height="8" fill="url(#cb)" stroke="#1a1a1a" stroke-width="1.2"/>
<g stroke="#222" stroke-width="0.9">
<line x1="70" y1="215" x2="70" y2="218.6"/><line x1="180" y1="215" x2="180" y2="218.6"/>
<line x1="49" y1="264.30" x2="52.4" y2="264.30"/>
<line x1="49" y1="319.30" x2="52.4" y2="319.30"/>
<line x1="49" y1="374.30" x2="52.4" y2="374.30"/>
<line x1="50.8" y1="278.30" x2="52.4" y2="278.30"/>
<line x1="50.8" y1="333.30" x2="52.4" y2="333.30"/>
<line x1="50.8" y1="388.30" x2="52.4" y2="388.30"/>
<line x1="53.50" y1="400.5" x2="53.50" y2="404.5"/>
<line x1="138.50" y1="400.5" x2="138.50" y2="404.5"/>
<line x1="223.50" y1="400.5" x2="223.50" y2="404.5"/>
</g>
<text x="-0.5" y="210.3" font-size="17" text-anchor="start" fill="#222" stroke="#222" stroke-width="0.15" >(b)</text>
<text x="70" y="207" font-size="16" text-anchor="middle" fill="#222" stroke="#222" stroke-width="0.15" >0.0</text>
<text x="180" y="207" font-size="16" text-anchor="middle" fill="#222" stroke="#222" stroke-width="0.15" >0.2</text>
<text x="125.5" y="207" font-size="16" text-anchor="middle" fill="#222" stroke="#222" stroke-width="0.15">Re(S<tspan font-size="10.5" dy="3">21</tspan><tspan dy="-3">)</tspan></text>
<text x="45.3" y="269.3" font-size="15.5" text-anchor="end" fill="#222" stroke="#222" stroke-width="0.15" >10</text>
<text x="45.3" y="324.5" font-size="15.5" text-anchor="end" fill="#222" stroke="#222" stroke-width="0.15" >0</text>
<text x="45.3" y="379.5" font-size="15.5" text-anchor="end" fill="#222" stroke="#222" stroke-width="0.15" >-10</text>
<text x="49.4" y="421.3" font-size="15.5" text-anchor="middle" fill="#222" stroke="#222" stroke-width="0.15" >-6</text>
<text x="134.6" y="421.3" font-size="15.5" text-anchor="middle" fill="#222" stroke="#222" stroke-width="0.15" >-5</text>
<text x="218.6" y="421.3" font-size="15.5" text-anchor="middle" fill="#222" stroke="#222" stroke-width="0.15" >-4</text>
<text x="136" y="440.4" font-size="16" text-anchor="middle" fill="#222" stroke="#222" stroke-width="0.15" textLength="130" lengthAdjust="spacingAndGlyphs" >Coil Current (mA)</text>
<text transform="translate(13.8,368.5) rotate(-90)" font-size="17" fill="#222" stroke="#222" stroke-width="0.15" textLength="53.5" lengthAdjust="spacingAndGlyphs">Δ<tspan font-size="12" dy="3" font-style="italic">ω</tspan><tspan dy="-3">/2π</tspan></text>
<text transform="translate(13.8,309.2) rotate(-90)" font-size="17" fill="#222" stroke="#222" stroke-width="0.15" textLength="43" lengthAdjust="spacingAndGlyphs">(MHz)</text>
<clipPath id="ct"><rect x="312.4" y="213.4" width="172.60000000000002" height="88.79999999999998"/></clipPath><clipPath id="cbt"><rect x="312.4" y="308.9" width="172.60000000000002" height="89.20000000000005"/></clipPath>
<g clip-path="url(#ct)">
<g fill="#3560b8"><circle cx="313.10" cy="229.41" r="2.3"/><circle cx="313.80" cy="228.25" r="2.3"/><circle cx="314.50" cy="228.63" r="2.3"/><circle cx="315.20" cy="229.13" r="2.3"/><circle cx="315.89" cy="228.64" r="2.3"/><circle cx="316.59" cy="229.38" r="2.3"/><circle cx="317.29" cy="228.38" r="2.3"/><circle cx="317.99" cy="229.16" r="2.3"/><circle cx="318.69" cy="228.74" r="2.3"/><circle cx="319.39" cy="230.12" r="2.3"/><circle cx="320.09" cy="228.94" r="2.3"/><circle cx="320.79" cy="230.43" r="2.3"/><circle cx="321.49" cy="230.70" r="2.3"/><circle cx="322.18" cy="229.46" r="2.3"/><circle cx="322.88" cy="229.90" r="2.3"/><circle cx="323.58" cy="229.15" r="2.3"/><circle cx="324.28" cy="227.66" r="2.3"/><circle cx="324.98" cy="229.90" r="2.3"/><circle cx="325.68" cy="229.77" r="2.3"/><circle cx="326.38" cy="229.19" r="2.3"/><circle cx="327.08" cy="229.00" r="2.3"/><circle cx="327.78" cy="229.51" r="2.3"/><circle cx="328.47" cy="229.56" r="2.3"/><circle cx="329.17" cy="228.92" r="2.3"/><circle cx="329.87" cy="229.08" r="2.3"/><circle cx="330.57" cy="230.24" r="2.3"/><circle cx="331.27" cy="229.57" r="2.3"/><circle cx="331.97" cy="229.52" r="2.3"/><circle cx="332.67" cy="230.35" r="2.3"/><circle cx="333.37" cy="229.43" r="2.3"/><circle cx="334.07" cy="230.28" r="2.3"/><circle cx="334.76" cy="228.99" r="2.3"/><circle cx="335.46" cy="229.60" r="2.3"/><circle cx="336.16" cy="229.72" r="2.3"/><circle cx="336.86" cy="230.27" r="2.3"/><circle cx="337.56" cy="229.98" r="2.3"/><circle cx="338.26" cy="231.40" r="2.3"/><circle cx="338.96" cy="230.84" r="2.3"/><circle cx="339.66" cy="229.83" r="2.3"/><circle cx="340.36" cy="231.71" r="2.3"/><circle cx="341.05" cy="229.64" r="2.3"/><circle cx="341.75" cy="231.61" r="2.3"/><circle cx="342.45" cy="229.89" r="2.3"/><circle cx="343.15" cy="231.16" r="2.3"/><circle cx="343.85" cy="230.11" r="2.3"/><circle cx="344.55" cy="230.71" r="2.3"/><circle cx="345.25" cy="232.07" r="2.3"/><circle cx="345.95" cy="230.21" r="2.3"/><circle cx="346.65" cy="230.25" r="2.3"/><circle cx="347.34" cy="231.55" r="2.3"/><circle cx="348.04" cy="231.94" r="2.3"/><circle cx="348.74" cy="232.12" r="2.3"/><circle cx="349.44" cy="233.01" r="2.3"/><circle cx="350.14" cy="231.85" r="2.3"/><circle cx="350.84" cy="233.43" r="2.3"/><circle cx="351.54" cy="233.53" r="2.3"/><circle cx="352.24" cy="234.60" r="2.3"/><circle cx="352.94" cy="235.10" r="2.3"/><circle cx="353.63" cy="236.31" r="2.3"/><circle cx="354.33" cy="235.35" r="2.3"/><circle cx="355.03" cy="237.42" r="2.3"/><circle cx="355.73" cy="237.87" r="2.3"/><circle cx="356.43" cy="240.10" r="2.3"/><circle cx="357.13" cy="242.49" r="2.3"/><circle cx="357.83" cy="244.54" r="2.3"/><circle cx="358.53" cy="247.55" r="2.3"/><circle cx="359.23" cy="250.62" r="2.3"/><circle cx="359.92" cy="255.09" r="2.3"/><circle cx="360.62" cy="259.90" r="2.3"/><circle cx="361.32" cy="265.98" r="2.3"/><circle cx="362.02" cy="270.66" r="2.3"/><circle cx="362.72" cy="272.77" r="2.3"/><circle cx="363.42" cy="276.06" r="2.3"/><circle cx="364.12" cy="275.14" r="2.3"/><circle cx="364.82" cy="270.52" r="2.3"/><circle cx="365.52" cy="264.76" r="2.3"/><circle cx="366.21" cy="261.53" r="2.3"/><circle cx="366.91" cy="255.68" r="2.3"/><circle cx="367.61" cy="251.69" r="2.3"/><circle cx="368.31" cy="248.94" r="2.3"/><circle cx="369.01" cy="244.20" r="2.3"/><circle cx="369.71" cy="242.37" r="2.3"/><circle cx="370.41" cy="240.37" r="2.3"/><circle cx="371.11" cy="239.39" r="2.3"/><circle cx="371.81" cy="237.22" r="2.3"/><circle cx="372.50" cy="236.87" r="2.3"/><circle cx="373.20" cy="235.69" r="2.3"/><circle cx="373.90" cy="235.64" r="2.3"/><circle cx="374.60" cy="235.09" r="2.3"/><circle cx="375.30" cy="232.70" r="2.3"/><circle cx="376.00" cy="233.58" r="2.3"/><circle cx="376.70" cy="232.60" r="2.3"/><circle cx="377.40" cy="232.49" r="2.3"/><circle cx="378.10" cy="232.49" r="2.3"/><circle cx="378.79" cy="232.28" r="2.3"/><circle cx="379.49" cy="231.22" r="2.3"/><circle cx="380.19" cy="231.69" r="2.3"/><circle cx="380.89" cy="231.41" r="2.3"/><circle cx="381.59" cy="231.12" r="2.3"/><circle cx="382.29" cy="230.14" r="2.3"/><circle cx="382.99" cy="230.37" r="2.3"/><circle cx="383.69" cy="230.48" r="2.3"/><circle cx="384.39" cy="231.06" r="2.3"/><circle cx="385.08" cy="231.56" r="2.3"/><circle cx="385.78" cy="229.79" r="2.3"/><circle cx="386.48" cy="229.70" r="2.3"/><circle cx="387.18" cy="230.44" r="2.3"/><circle cx="387.88" cy="229.88" r="2.3"/><circle cx="388.58" cy="229.65" r="2.3"/><circle cx="389.28" cy="229.57" r="2.3"/><circle cx="389.98" cy="229.46" r="2.3"/><circle cx="390.68" cy="230.42" r="2.3"/><circle cx="391.37" cy="228.95" r="2.3"/><circle cx="392.07" cy="230.92" r="2.3"/><circle cx="392.77" cy="229.37" r="2.3"/><circle cx="393.47" cy="229.61" r="2.3"/><circle cx="394.17" cy="229.31" r="2.3"/><circle cx="394.87" cy="228.56" r="2.3"/><circle cx="395.57" cy="228.83" r="2.3"/><circle cx="396.27" cy="230.73" r="2.3"/><circle cx="396.96" cy="231.11" r="2.3"/><circle cx="397.66" cy="229.29" r="2.3"/><circle cx="398.36" cy="230.61" r="2.3"/><circle cx="399.06" cy="229.88" r="2.3"/><circle cx="399.76" cy="229.26" r="2.3"/><circle cx="400.46" cy="231.06" r="2.3"/><circle cx="401.16" cy="231.41" r="2.3"/><circle cx="401.86" cy="229.70" r="2.3"/><circle cx="402.56" cy="229.86" r="2.3"/><circle cx="403.25" cy="230.08" r="2.3"/><circle cx="403.95" cy="229.89" r="2.3"/><circle cx="404.65" cy="230.56" r="2.3"/><circle cx="405.35" cy="231.06" r="2.3"/><circle cx="406.05" cy="230.10" r="2.3"/><circle cx="406.75" cy="230.71" r="2.3"/><circle cx="407.45" cy="231.23" r="2.3"/><circle cx="408.15" cy="229.71" r="2.3"/><circle cx="408.85" cy="230.16" r="2.3"/><circle cx="409.54" cy="229.86" r="2.3"/><circle cx="410.24" cy="230.92" r="2.3"/><circle cx="410.94" cy="230.73" r="2.3"/><circle cx="411.64" cy="231.04" r="2.3"/><circle cx="412.34" cy="231.02" r="2.3"/><circle cx="413.04" cy="230.30" r="2.3"/><circle cx="413.74" cy="231.09" r="2.3"/><circle cx="414.44" cy="230.35" r="2.3"/><circle cx="415.14" cy="230.46" r="2.3"/><circle cx="415.83" cy="229.35" r="2.3"/><circle cx="416.53" cy="231.95" r="2.3"/><circle cx="417.23" cy="230.43" r="2.3"/><circle cx="417.93" cy="231.29" r="2.3"/><circle cx="418.63" cy="231.40" r="2.3"/><circle cx="419.33" cy="232.63" r="2.3"/><circle cx="420.03" cy="232.13" r="2.3"/><circle cx="420.73" cy="231.50" r="2.3"/><circle cx="421.43" cy="232.38" r="2.3"/><circle cx="422.12" cy="232.57" r="2.3"/><circle cx="422.82" cy="233.21" r="2.3"/><circle cx="423.52" cy="232.58" r="2.3"/><circle cx="424.22" cy="233.92" r="2.3"/><circle cx="424.92" cy="236.08" r="2.3"/><circle cx="425.62" cy="235.66" r="2.3"/><circle cx="426.32" cy="237.38" r="2.3"/><circle cx="427.02" cy="239.27" r="2.3"/><circle cx="427.72" cy="238.44" r="2.3"/><circle cx="428.41" cy="238.48" r="2.3"/><circle cx="429.11" cy="241.12" r="2.3"/><circle cx="429.81" cy="244.09" r="2.3"/><circle cx="430.51" cy="246.48" r="2.3"/><circle cx="431.21" cy="248.14" r="2.3"/><circle cx="431.91" cy="252.69" r="2.3"/><circle cx="432.61" cy="257.34" r="2.3"/><circle cx="433.31" cy="262.62" r="2.3"/><circle cx="434.01" cy="267.99" r="2.3"/><circle cx="434.70" cy="272.30" r="2.3"/><circle cx="435.40" cy="275.66" r="2.3"/><circle cx="436.10" cy="276.43" r="2.3"/><circle cx="436.80" cy="275.03" r="2.3"/><circle cx="437.50" cy="269.51" r="2.3"/><circle cx="438.20" cy="265.02" r="2.3"/><circle cx="438.90" cy="258.37" r="2.3"/><circle cx="439.60" cy="255.26" r="2.3"/><circle cx="440.30" cy="250.32" r="2.3"/><circle cx="440.99" cy="246.83" r="2.3"/><circle cx="441.69" cy="245.01" r="2.3"/><circle cx="442.39" cy="240.55" r="2.3"/><circle cx="443.09" cy="238.91" r="2.3"/><circle cx="443.79" cy="238.80" r="2.3"/><circle cx="444.49" cy="236.67" r="2.3"/><circle cx="445.19" cy="235.93" r="2.3"/><circle cx="445.89" cy="237.24" r="2.3"/><circle cx="446.59" cy="234.44" r="2.3"/><circle cx="447.28" cy="234.06" r="2.3"/><circle cx="447.98" cy="233.43" r="2.3"/><circle cx="448.68" cy="233.82" r="2.3"/><circle cx="449.38" cy="232.84" r="2.3"/><circle cx="450.08" cy="232.44" r="2.3"/><circle cx="450.78" cy="231.15" r="2.3"/><circle cx="451.48" cy="231.51" r="2.3"/><circle cx="452.18" cy="231.52" r="2.3"/><circle cx="452.88" cy="230.20" r="2.3"/><circle cx="453.57" cy="231.53" r="2.3"/><circle cx="454.27" cy="231.25" r="2.3"/><circle cx="454.97" cy="232.13" r="2.3"/><circle cx="455.67" cy="229.54" r="2.3"/><circle cx="456.37" cy="229.86" r="2.3"/><circle cx="457.07" cy="229.79" r="2.3"/><circle cx="457.77" cy="229.87" r="2.3"/><circle cx="458.47" cy="230.18" r="2.3"/><circle cx="459.17" cy="230.02" r="2.3"/><circle cx="459.86" cy="230.28" r="2.3"/><circle cx="460.56" cy="230.18" r="2.3"/><circle cx="461.26" cy="229.93" r="2.3"/><circle cx="461.96" cy="228.81" r="2.3"/><circle cx="462.66" cy="229.45" r="2.3"/><circle cx="463.36" cy="229.84" r="2.3"/><circle cx="464.06" cy="230.17" r="2.3"/><circle cx="464.76" cy="230.17" r="2.3"/><circle cx="465.46" cy="228.50" r="2.3"/><circle cx="466.15" cy="229.26" r="2.3"/><circle cx="466.85" cy="229.54" r="2.3"/><circle cx="467.55" cy="229.81" r="2.3"/><circle cx="468.25" cy="230.33" r="2.3"/><circle cx="468.95" cy="229.54" r="2.3"/><circle cx="469.65" cy="228.83" r="2.3"/><circle cx="470.35" cy="229.72" r="2.3"/><circle cx="471.05" cy="229.58" r="2.3"/><circle cx="471.75" cy="229.55" r="2.3"/><circle cx="472.44" cy="229.29" r="2.3"/><circle cx="473.14" cy="230.50" r="2.3"/><circle cx="473.84" cy="229.50" r="2.3"/><circle cx="474.54" cy="229.93" r="2.3"/><circle cx="475.24" cy="228.65" r="2.3"/><circle cx="475.94" cy="229.83" r="2.3"/><circle cx="476.64" cy="228.84" r="2.3"/><circle cx="477.34" cy="228.13" r="2.3"/><circle cx="478.04" cy="229.45" r="2.3"/><circle cx="478.73" cy="229.65" r="2.3"/><circle cx="479.43" cy="229.06" r="2.3"/><circle cx="480.13" cy="229.19" r="2.3"/><circle cx="480.83" cy="229.89" r="2.3"/><circle cx="481.53" cy="228.83" r="2.3"/><circle cx="482.23" cy="227.69" r="2.3"/><circle cx="482.93" cy="229.33" r="2.3"/><circle cx="483.63" cy="229.28" r="2.3"/></g>
<path d="M312.05,229.07 L312.48,229.08 L312.91,229.09 L313.34,229.09 L313.78,229.10 L314.21,229.10 L314.64,229.11 L315.07,229.11 L315.50,229.12 L315.93,229.12 L316.37,229.13 L316.80,229.14 L317.23,229.14 L317.66,229.15 L318.09,229.16 L318.52,229.16 L318.96,229.17 L319.39,229.18 L319.82,229.19 L320.25,229.20 L320.68,229.20 L321.11,229.21 L321.55,229.22 L321.98,229.23 L322.41,229.24 L322.84,229.25 L323.27,229.26 L323.70,229.27 L324.14,229.28 L324.57,229.29 L325.00,229.30 L325.43,229.31 L325.86,229.33 L326.29,229.34 L326.72,229.35 L327.16,229.36 L327.59,229.38 L328.02,229.39 L328.45,229.41 L328.88,229.42 L329.31,229.44 L329.75,229.45 L330.18,229.47 L330.61,229.49 L331.04,229.51 L331.47,229.52 L331.90,229.54 L332.34,229.56 L332.77,229.59 L333.20,229.61 L333.63,229.63 L334.06,229.66 L334.49,229.68 L334.93,229.71 L335.36,229.73 L335.79,229.76 L336.22,229.79 L336.65,229.82 L337.08,229.86 L337.52,229.89 L337.95,229.93 L338.38,229.97 L338.81,230.01 L339.24,230.05 L339.67,230.09 L340.11,230.14 L340.54,230.19 L340.97,230.24 L341.40,230.29 L341.83,230.35 L342.26,230.41 L342.69,230.48 L343.13,230.55 L343.56,230.62 L343.99,230.70 L344.42,230.78 L344.85,230.87 L345.28,230.96 L345.72,231.06 L346.15,231.17 L346.58,231.28 L347.01,231.41 L347.44,231.54 L347.87,231.68 L348.31,231.83 L348.74,232.00 L349.17,232.18 L349.60,232.38 L350.03,232.59 L350.46,232.82 L350.90,233.08 L351.33,233.35 L351.76,233.66 L352.19,233.99 L352.62,234.36 L353.05,234.77 L353.49,235.22 L353.92,235.72 L354.35,236.28 L354.78,236.91 L355.21,237.61 L355.64,238.40 L356.08,239.29 L356.51,240.30 L356.94,241.44 L357.37,242.74 L357.80,244.21 L358.23,245.88 L358.67,247.79 L359.10,249.94 L359.53,252.36 L359.96,255.05 L360.39,258.01 L360.82,261.18 L361.25,264.46 L361.69,267.72 L362.12,270.71 L362.55,273.19 L362.98,274.88 L363.41,275.57 L363.84,275.17 L364.28,273.73 L364.71,271.44 L365.14,268.56 L365.57,265.35 L366.00,262.06 L366.43,258.85 L366.87,255.84 L367.30,253.08 L367.73,250.59 L368.16,248.37 L368.59,246.41 L369.02,244.68 L369.46,243.16 L369.89,241.82 L370.32,240.64 L370.75,239.60 L371.18,238.69 L371.61,237.88 L372.05,237.16 L372.48,236.51 L372.91,235.94 L373.34,235.43 L373.77,234.97 L374.20,234.55 L374.64,234.18 L375.07,233.84 L375.50,233.53 L375.93,233.25 L376.36,233.00 L376.79,232.76 L377.22,232.55 L377.66,232.35 L378.09,232.17 L378.52,232.01 L378.95,231.85 L379.38,231.71 L379.81,231.58 L380.25,231.46 L380.68,231.35 L381.11,231.24 L381.54,231.15 L381.97,231.06 L382.40,230.97 L382.84,230.89 L383.27,230.82 L383.70,230.75 L384.13,230.69 L384.56,230.63 L384.99,230.57 L385.43,230.52 L385.86,230.47 L386.29,230.42 L386.72,230.38 L387.15,230.34 L387.58,230.30 L388.02,230.26 L388.45,230.23 L388.88,230.20 L389.31,230.17 L389.74,230.14 L390.17,230.11 L390.61,230.09 L391.04,230.07 L391.47,230.05 L391.90,230.03 L392.33,230.01 L392.76,229.99 L393.20,229.98 L393.63,229.96 L394.06,229.95 L394.49,229.94 L394.92,229.92 L395.35,229.91 L395.78,229.91 L396.22,229.90 L396.65,229.89 L397.08,229.89 L397.51,229.88 L397.94,229.88 L398.37,229.87 L398.81,229.87 L399.24,229.87 L399.67,229.87 L400.10,229.87 L400.53,229.87 L400.96,229.88 L401.40,229.88 L401.83,229.88 L402.26,229.89 L402.69,229.90 L403.12,229.90 L403.55,229.91 L403.99,229.92 L404.42,229.93 L404.85,229.94 L405.28,229.96 L405.71,229.97 L406.14,229.99 L406.58,230.00 L407.01,230.02 L407.44,230.04 L407.87,230.06 L408.30,230.08 L408.73,230.10 L409.17,230.13 L409.60,230.16 L410.03,230.19 L410.46,230.22 L410.89,230.25 L411.32,230.28 L411.75,230.32 L412.19,230.36 L412.62,230.40 L413.05,230.45 L413.48,230.50 L413.91,230.55 L414.34,230.60 L414.78,230.66 L415.21,230.72 L415.64,230.79 L416.07,230.86 L416.50,230.93 L416.93,231.01 L417.37,231.10 L417.80,231.19 L418.23,231.29 L418.66,231.40 L419.09,231.51 L419.52,231.64 L419.96,231.77 L420.39,231.92 L420.82,232.07 L421.25,232.24 L421.68,232.43 L422.11,232.63 L422.55,232.85 L422.98,233.08 L423.41,233.35 L423.84,233.63 L424.27,233.95 L424.70,234.29 L425.14,234.68 L425.57,235.10 L426.00,235.57 L426.43,236.10 L426.86,236.68 L427.29,237.34 L427.72,238.08 L428.16,238.91 L428.59,239.84 L429.02,240.90 L429.45,242.11 L429.88,243.47 L430.31,245.03 L430.75,246.79 L431.18,248.80 L431.61,251.06 L432.04,253.61 L432.47,256.43 L432.90,259.52 L433.34,262.80 L433.77,266.18 L434.20,269.47 L434.63,272.43 L435.06,274.80 L435.49,276.29 L435.93,276.73 L436.36,276.05 L436.79,274.34 L437.22,271.82 L437.65,268.75 L438.08,265.42 L438.52,262.05 L438.95,258.80 L439.38,255.77 L439.81,253.00 L440.24,250.51 L440.67,248.30 L441.11,246.35 L441.54,244.63 L441.97,243.11 L442.40,241.78 L442.83,240.61 L443.26,239.57 L443.70,238.65 L444.13,237.84 L444.56,237.12 L444.99,236.48 L445.42,235.90 L445.85,235.39 L446.28,234.92 L446.72,234.50 L447.15,234.12 L447.58,233.78 L448.01,233.47 L448.44,233.18 L448.87,232.92 L449.31,232.69 L449.74,232.47 L450.17,232.27 L450.60,232.08 L451.03,231.91 L451.46,231.75 L451.90,231.61 L452.33,231.47 L452.76,231.34 L453.19,231.23 L453.62,231.12 L454.05,231.01 L454.49,230.92 L454.92,230.83 L455.35,230.74 L455.78,230.66 L456.21,230.59 L456.64,230.52 L457.08,230.45 L457.51,230.39 L457.94,230.33 L458.37,230.27 L458.80,230.22 L459.23,230.17 L459.67,230.12 L460.10,230.08 L460.53,230.03 L460.96,229.99 L461.39,229.95 L461.82,229.92 L462.25,229.88 L462.69,229.85 L463.12,229.82 L463.55,229.79 L463.98,229.76 L464.41,229.73 L464.84,229.70 L465.28,229.68 L465.71,229.65 L466.14,229.63 L466.57,229.60 L467.00,229.58 L467.43,229.56 L467.87,229.54 L468.30,229.52 L468.73,229.50 L469.16,229.49 L469.59,229.47 L470.02,229.45 L470.46,229.43 L470.89,229.42 L471.32,229.40 L471.75,229.39 L472.18,229.38 L472.61,229.36 L473.05,229.35 L473.48,229.34 L473.91,229.32 L474.34,229.31 L474.77,229.30 L475.20,229.29 L475.64,229.28 L476.07,229.27 L476.50,229.26 L476.93,229.25 L477.36,229.24 L477.79,229.23 L478.23,229.22 L478.66,229.21 L479.09,229.20 L479.52,229.20 L479.95,229.19 L480.38,229.18 L480.81,229.17 L481.25,229.17 L481.68,229.16 L482.11,229.15 L482.54,229.14 L482.97,229.14 L483.40,229.13 L483.84,229.13 L484.27,229.12" fill="none" stroke="#de3246" stroke-width="2.3" stroke-linejoin="round"/>
</g>
<rect x="312.4" y="213.4" width="172.60000000000002" height="88.79999999999998" fill="none" stroke="#2e2e2e" stroke-width="1.1"/>
<g clip-path="url(#cbt)">
<g fill="#3560b8"><circle cx="317.47" cy="395.78" r="2.3"/><circle cx="318.18" cy="392.57" r="2.3"/><circle cx="318.88" cy="395.94" r="2.3"/><circle cx="319.59" cy="395.69" r="2.3"/><circle cx="320.30" cy="390.12" r="2.3"/><circle cx="321.00" cy="395.05" r="2.3"/><circle cx="321.71" cy="390.38" r="2.3"/><circle cx="322.42" cy="389.25" r="2.3"/><circle cx="323.12" cy="392.05" r="2.3"/><circle cx="323.83" cy="391.26" r="2.3"/><circle cx="324.54" cy="387.93" r="2.3"/><circle cx="325.24" cy="392.75" r="2.3"/><circle cx="325.95" cy="393.53" r="2.3"/><circle cx="326.66" cy="395.15" r="2.3"/><circle cx="327.36" cy="391.81" r="2.3"/><circle cx="328.07" cy="388.37" r="2.3"/><circle cx="328.78" cy="389.43" r="2.3"/><circle cx="329.48" cy="393.67" r="2.3"/><circle cx="330.19" cy="393.32" r="2.3"/><circle cx="330.89" cy="392.37" r="2.3"/><circle cx="331.60" cy="390.38" r="2.3"/><circle cx="332.31" cy="391.36" r="2.3"/><circle cx="333.01" cy="390.23" r="2.3"/><circle cx="333.72" cy="389.86" r="2.3"/><circle cx="334.43" cy="391.05" r="2.3"/><circle cx="335.13" cy="390.26" r="2.3"/><circle cx="335.84" cy="389.49" r="2.3"/><circle cx="336.55" cy="389.94" r="2.3"/><circle cx="337.25" cy="388.36" r="2.3"/><circle cx="337.96" cy="384.97" r="2.3"/><circle cx="338.67" cy="387.66" r="2.3"/><circle cx="339.37" cy="388.62" r="2.3"/><circle cx="340.08" cy="392.34" r="2.3"/><circle cx="340.79" cy="387.27" r="2.3"/><circle cx="341.49" cy="392.30" r="2.3"/><circle cx="342.20" cy="390.66" r="2.3"/><circle cx="342.90" cy="384.99" r="2.3"/><circle cx="343.61" cy="384.82" r="2.3"/><circle cx="344.32" cy="386.23" r="2.3"/><circle cx="345.02" cy="389.22" r="2.3"/><circle cx="345.73" cy="385.50" r="2.3"/><circle cx="346.44" cy="385.53" r="2.3"/><circle cx="347.14" cy="381.78" r="2.3"/><circle cx="347.85" cy="377.23" r="2.3"/><circle cx="348.56" cy="381.01" r="2.3"/><circle cx="349.26" cy="382.32" r="2.3"/><circle cx="349.97" cy="382.16" r="2.3"/><circle cx="350.68" cy="378.48" r="2.3"/><circle cx="351.38" cy="377.54" r="2.3"/><circle cx="352.09" cy="378.43" r="2.3"/><circle cx="352.80" cy="374.02" r="2.3"/><circle cx="353.50" cy="375.30" r="2.3"/><circle cx="354.21" cy="368.28" r="2.3"/><circle cx="354.91" cy="366.36" r="2.3"/><circle cx="355.62" cy="364.06" r="2.3"/><circle cx="356.33" cy="365.16" r="2.3"/><circle cx="357.03" cy="359.97" r="2.3"/><circle cx="357.74" cy="358.17" r="2.3"/><circle cx="358.45" cy="355.30" r="2.3"/><circle cx="359.15" cy="351.71" r="2.3"/><circle cx="359.86" cy="350.21" r="2.3"/><circle cx="360.57" cy="346.31" r="2.3"/><circle cx="361.27" cy="336.28" r="2.3"/><circle cx="361.98" cy="333.30" r="2.3"/><circle cx="362.69" cy="326.75" r="2.3"/><circle cx="363.39" cy="319.91" r="2.3"/><circle cx="364.10" cy="325.87" r="2.3"/><circle cx="364.81" cy="328.23" r="2.3"/><circle cx="365.51" cy="332.42" r="2.3"/><circle cx="366.22" cy="337.29" r="2.3"/><circle cx="366.92" cy="343.32" r="2.3"/><circle cx="367.63" cy="343.88" r="2.3"/><circle cx="368.34" cy="348.98" r="2.3"/><circle cx="369.04" cy="355.02" r="2.3"/><circle cx="369.75" cy="356.92" r="2.3"/><circle cx="370.46" cy="355.25" r="2.3"/><circle cx="371.16" cy="358.12" r="2.3"/><circle cx="371.87" cy="365.40" r="2.3"/><circle cx="372.58" cy="359.62" r="2.3"/><circle cx="373.28" cy="362.91" r="2.3"/><circle cx="373.99" cy="362.65" r="2.3"/><circle cx="374.70" cy="367.96" r="2.3"/><circle cx="375.40" cy="368.98" r="2.3"/><circle cx="376.11" cy="372.00" r="2.3"/><circle cx="376.82" cy="364.62" r="2.3"/><circle cx="377.52" cy="371.85" r="2.3"/><circle cx="378.23" cy="368.74" r="2.3"/><circle cx="378.93" cy="374.76" r="2.3"/><circle cx="379.64" cy="373.71" r="2.3"/><circle cx="380.35" cy="378.67" r="2.3"/><circle cx="381.05" cy="376.37" r="2.3"/><circle cx="381.76" cy="373.82" r="2.3"/><circle cx="382.47" cy="379.51" r="2.3"/><circle cx="383.17" cy="374.69" r="2.3"/><circle cx="383.88" cy="376.87" r="2.3"/><circle cx="384.59" cy="380.51" r="2.3"/><circle cx="385.29" cy="379.69" r="2.3"/><circle cx="386.00" cy="379.98" r="2.3"/><circle cx="386.71" cy="379.39" r="2.3"/><circle cx="387.41" cy="380.82" r="2.3"/><circle cx="388.12" cy="381.75" r="2.3"/><circle cx="388.83" cy="380.77" r="2.3"/><circle cx="389.53" cy="382.66" r="2.3"/><circle cx="390.24" cy="383.48" r="2.3"/><circle cx="390.94" cy="380.83" r="2.3"/><circle cx="391.65" cy="378.89" r="2.3"/><circle cx="392.36" cy="384.63" r="2.3"/><circle cx="393.06" cy="381.29" r="2.3"/><circle cx="393.77" cy="382.96" r="2.3"/><circle cx="394.48" cy="383.87" r="2.3"/><circle cx="395.18" cy="379.79" r="2.3"/><circle cx="395.89" cy="383.07" r="2.3"/><circle cx="396.60" cy="378.53" r="2.3"/><circle cx="397.30" cy="383.86" r="2.3"/><circle cx="398.01" cy="381.23" r="2.3"/><circle cx="398.72" cy="382.68" r="2.3"/><circle cx="399.42" cy="383.90" r="2.3"/><circle cx="400.13" cy="380.79" r="2.3"/><circle cx="400.84" cy="382.44" r="2.3"/><circle cx="401.54" cy="380.61" r="2.3"/><circle cx="402.25" cy="382.00" r="2.3"/><circle cx="402.95" cy="384.24" r="2.3"/><circle cx="403.66" cy="381.82" r="2.3"/><circle cx="404.37" cy="381.28" r="2.3"/><circle cx="405.07" cy="378.99" r="2.3"/><circle cx="405.78" cy="383.05" r="2.3"/><circle cx="406.49" cy="380.82" r="2.3"/><circle cx="407.19" cy="384.44" r="2.3"/><circle cx="407.90" cy="378.73" r="2.3"/><circle cx="408.61" cy="382.45" r="2.3"/><circle cx="409.31" cy="383.84" r="2.3"/><circle cx="410.02" cy="379.55" r="2.3"/><circle cx="410.73" cy="376.59" r="2.3"/><circle cx="411.43" cy="382.31" r="2.3"/><circle cx="412.14" cy="380.93" r="2.3"/><circle cx="412.85" cy="379.72" r="2.3"/><circle cx="413.55" cy="380.15" r="2.3"/><circle cx="414.26" cy="376.19" r="2.3"/><circle cx="414.96" cy="378.39" r="2.3"/><circle cx="415.67" cy="377.65" r="2.3"/><circle cx="416.38" cy="374.07" r="2.3"/><circle cx="417.08" cy="376.56" r="2.3"/><circle cx="417.79" cy="373.21" r="2.3"/><circle cx="418.50" cy="375.78" r="2.3"/><circle cx="419.20" cy="375.62" r="2.3"/><circle cx="419.91" cy="376.29" r="2.3"/><circle cx="420.62" cy="366.98" r="2.3"/><circle cx="421.32" cy="371.15" r="2.3"/><circle cx="422.03" cy="368.95" r="2.3"/><circle cx="422.74" cy="368.63" r="2.3"/><circle cx="423.44" cy="367.19" r="2.3"/><circle cx="424.15" cy="366.38" r="2.3"/><circle cx="424.86" cy="360.96" r="2.3"/><circle cx="425.56" cy="366.50" r="2.3"/><circle cx="426.27" cy="366.36" r="2.3"/><circle cx="426.97" cy="363.68" r="2.3"/><circle cx="427.68" cy="362.89" r="2.3"/><circle cx="428.39" cy="356.48" r="2.3"/><circle cx="429.09" cy="354.59" r="2.3"/><circle cx="429.80" cy="356.81" r="2.3"/><circle cx="430.51" cy="355.68" r="2.3"/><circle cx="431.21" cy="350.94" r="2.3"/><circle cx="431.92" cy="344.37" r="2.3"/><circle cx="432.63" cy="351.28" r="2.3"/><circle cx="433.33" cy="340.35" r="2.3"/><circle cx="434.04" cy="340.05" r="2.3"/><circle cx="434.75" cy="330.39" r="2.3"/><circle cx="435.45" cy="329.29" r="2.3"/><circle cx="436.16" cy="322.42" r="2.3"/><circle cx="436.87" cy="326.99" r="2.3"/><circle cx="437.57" cy="332.30" r="2.3"/><circle cx="438.28" cy="333.71" r="2.3"/><circle cx="438.98" cy="340.14" r="2.3"/><circle cx="439.69" cy="347.59" r="2.3"/><circle cx="440.40" cy="352.85" r="2.3"/><circle cx="441.10" cy="358.99" r="2.3"/><circle cx="441.81" cy="359.09" r="2.3"/><circle cx="442.52" cy="361.58" r="2.3"/><circle cx="443.22" cy="364.85" r="2.3"/><circle cx="443.93" cy="367.92" r="2.3"/><circle cx="444.64" cy="372.99" r="2.3"/><circle cx="445.34" cy="372.74" r="2.3"/><circle cx="446.05" cy="374.62" r="2.3"/><circle cx="446.76" cy="373.31" r="2.3"/><circle cx="447.46" cy="373.50" r="2.3"/><circle cx="448.17" cy="379.38" r="2.3"/><circle cx="448.88" cy="381.88" r="2.3"/><circle cx="449.58" cy="381.22" r="2.3"/><circle cx="450.29" cy="383.33" r="2.3"/><circle cx="451.00" cy="384.43" r="2.3"/><circle cx="451.70" cy="383.58" r="2.3"/><circle cx="452.41" cy="386.50" r="2.3"/><circle cx="453.11" cy="383.32" r="2.3"/><circle cx="453.82" cy="385.53" r="2.3"/><circle cx="454.53" cy="385.26" r="2.3"/><circle cx="455.23" cy="386.77" r="2.3"/><circle cx="455.94" cy="388.52" r="2.3"/><circle cx="456.65" cy="389.49" r="2.3"/><circle cx="457.35" cy="388.30" r="2.3"/><circle cx="458.06" cy="389.42" r="2.3"/><circle cx="458.77" cy="388.00" r="2.3"/><circle cx="459.47" cy="388.90" r="2.3"/><circle cx="460.18" cy="392.33" r="2.3"/><circle cx="460.89" cy="389.33" r="2.3"/><circle cx="461.59" cy="392.84" r="2.3"/><circle cx="462.30" cy="391.41" r="2.3"/><circle cx="463.01" cy="390.91" r="2.3"/><circle cx="463.71" cy="395.22" r="2.3"/><circle cx="464.42" cy="390.45" r="2.3"/><circle cx="465.12" cy="390.51" r="2.3"/><circle cx="465.83" cy="391.41" r="2.3"/><circle cx="466.54" cy="392.21" r="2.3"/><circle cx="467.24" cy="392.27" r="2.3"/><circle cx="467.95" cy="393.83" r="2.3"/><circle cx="468.66" cy="392.37" r="2.3"/><circle cx="469.36" cy="393.19" r="2.3"/><circle cx="470.07" cy="391.87" r="2.3"/><circle cx="470.78" cy="395.02" r="2.3"/><circle cx="471.48" cy="391.88" r="2.3"/><circle cx="472.19" cy="392.25" r="2.3"/><circle cx="472.90" cy="393.06" r="2.3"/><circle cx="473.60" cy="393.90" r="2.3"/><circle cx="474.31" cy="391.77" r="2.3"/><circle cx="475.02" cy="395.94" r="2.3"/><circle cx="475.72" cy="392.25" r="2.3"/><circle cx="476.43" cy="392.87" r="2.3"/><circle cx="477.13" cy="392.89" r="2.3"/><circle cx="477.84" cy="392.76" r="2.3"/><circle cx="478.55" cy="395.24" r="2.3"/><circle cx="479.25" cy="394.41" r="2.3"/><circle cx="362.77" cy="324.06" r="2.3"/><circle cx="363.35" cy="317.59" r="2.3"/><circle cx="363.94" cy="319.75" r="2.3"/><circle cx="364.64" cy="326.22" r="2.3"/><circle cx="363.12" cy="321.19" r="2.3"/><circle cx="435.65" cy="324.06" r="2.3"/><circle cx="436.11" cy="315.15" r="2.3"/><circle cx="436.58" cy="320.47" r="2.3"/><circle cx="436.93" cy="326.94" r="2.3"/><circle cx="436.35" cy="319.03" r="2.3"/></g>
<path d="M317.47,393.37 L317.80,393.34 L318.12,393.31 L318.44,393.28 L318.77,393.24 L319.09,393.21 L319.42,393.17 L319.74,393.13 L320.07,393.09 L320.39,393.05 L320.71,393.00 L321.04,392.96 L321.36,392.92 L321.69,392.87 L322.01,392.82 L322.33,392.77 L322.66,392.72 L322.98,392.67 L323.31,392.62 L323.63,392.57 L323.96,392.52 L324.28,392.46 L324.60,392.41 L324.93,392.35 L325.25,392.29 L325.58,392.24 L325.90,392.18 L326.23,392.12 L326.55,392.06 L326.87,392.00 L327.20,391.94 L327.52,391.88 L327.85,391.82 L328.17,391.75 L328.49,391.69 L328.82,391.63 L329.14,391.57 L329.47,391.50 L329.79,391.44 L330.12,391.37 L330.44,391.30 L330.76,391.23 L331.09,391.16 L331.41,391.09 L331.74,391.02 L332.06,390.95 L332.39,390.87 L332.71,390.80 L333.03,390.72 L333.36,390.64 L333.68,390.56 L334.01,390.47 L334.33,390.39 L334.65,390.30 L334.98,390.21 L335.30,390.12 L335.63,390.02 L335.95,389.93 L336.28,389.83 L336.60,389.73 L336.92,389.62 L337.25,389.52 L337.57,389.41 L337.90,389.29 L338.22,389.18 L338.55,389.06 L338.87,388.94 L339.19,388.82 L339.52,388.69 L339.84,388.56 L340.17,388.42 L340.49,388.29 L340.81,388.14 L341.14,388.00 L341.46,387.84 L341.79,387.66 L342.11,387.47 L342.44,387.27 L342.76,387.06 L343.08,386.83 L343.41,386.60 L343.73,386.35 L344.06,386.10 L344.38,385.83 L344.71,385.56 L345.03,385.28 L345.35,384.99 L345.68,384.69 L346.00,384.39 L346.33,384.08 L346.65,383.76 L346.97,383.43 L347.30,383.07 L347.62,382.69 L347.95,382.30 L348.27,381.89 L348.60,381.46 L348.92,381.01 L349.24,380.55 L349.57,380.07 L349.89,379.58 L350.22,379.08 L350.54,378.57 L350.87,378.04 L351.19,377.48 L351.51,376.89 L351.84,376.28 L352.16,375.63 L352.49,374.96 L352.81,374.26 L353.13,373.52 L353.46,372.76 L353.78,371.95 L354.11,371.11 L354.43,370.21 L354.76,369.28 L355.08,368.30 L355.40,367.27 L355.73,366.19 L356.05,365.06 L356.38,363.88 L356.70,362.58 L357.03,361.19 L357.35,359.72 L357.67,358.19 L358.00,356.62 L358.32,355.03 L358.65,353.44 L358.97,351.86 L359.30,350.27 L359.62,348.64 L359.94,346.95 L360.27,345.20 L360.59,343.36 L360.92,341.48 L361.24,339.57 L361.56,337.67 L361.89,335.80 L362.21,333.98 L362.54,331.92 L362.86,329.65 L363.19,327.57 L363.51,326.05 L363.83,325.50 L364.16,326.04 L364.48,327.40 L364.81,329.35 L365.13,331.66 L365.46,334.09 L365.78,336.39 L366.10,338.35 L366.43,340.07 L366.75,341.81 L367.08,343.52 L367.40,345.19 L367.72,346.78 L368.05,348.26 L368.37,349.62 L368.70,350.91 L369.02,352.15 L369.35,353.34 L369.67,354.50 L369.99,355.60 L370.32,356.66 L370.64,357.67 L370.97,358.63 L371.29,359.54 L371.62,360.39 L371.94,361.20 L372.26,361.98 L372.59,362.74 L372.91,363.48 L373.24,364.19 L373.56,364.87 L373.88,365.53 L374.21,366.16 L374.53,366.78 L374.86,367.36 L375.18,367.93 L375.51,368.47 L375.83,368.99 L376.15,369.48 L376.48,369.96 L376.80,370.44 L377.13,370.90 L377.45,371.35 L377.78,371.79 L378.10,372.22 L378.42,372.64 L378.75,373.04 L379.07,373.43 L379.40,373.81 L379.72,374.17 L380.04,374.52 L380.37,374.85 L380.69,375.16 L381.02,375.46 L381.34,375.74 L381.67,376.01 L381.99,376.26 L382.31,376.51 L382.64,376.76 L382.96,377.00 L383.29,377.23 L383.61,377.46 L383.94,377.68 L384.26,377.90 L384.58,378.11 L384.91,378.31 L385.23,378.50 L385.56,378.69 L385.88,378.87 L386.20,379.04 L386.53,379.20 L386.85,379.35 L387.18,379.49 L387.50,379.62 L387.83,379.75 L388.15,379.86 L388.47,379.96 L388.80,380.06 L389.12,380.17 L389.45,380.27 L389.77,380.37 L390.10,380.47 L390.42,380.56 L390.74,380.66 L391.07,380.75 L391.39,380.85 L391.72,380.94 L392.04,381.03 L392.36,381.11 L392.69,381.20 L393.01,381.28 L393.34,381.36 L393.66,381.44 L393.99,381.51 L394.31,381.58 L394.63,381.65 L394.96,381.71 L395.28,381.78 L395.61,381.83 L395.93,381.88 L396.26,381.93 L396.58,381.98 L396.90,382.02 L397.23,382.05 L397.55,382.09 L397.88,382.11 L398.20,382.13 L398.52,382.15 L398.85,382.16 L399.17,382.17 L399.50,382.17 L399.82,382.16 L400.15,382.14 L400.47,382.12 L400.79,382.09 L401.12,382.06 L401.44,382.02 L401.77,381.97 L402.09,381.92 L402.42,381.86 L402.74,381.79 L403.06,381.72 L403.39,381.65 L403.71,381.57 L404.04,381.49 L404.36,381.40 L404.68,381.31 L405.01,381.21 L405.33,381.11 L405.66,381.01 L405.98,380.90 L406.31,380.79 L406.63,380.68 L406.95,380.57 L407.28,380.45 L407.60,380.33 L407.93,380.21 L408.25,380.09 L408.58,379.97 L408.90,379.85 L409.22,379.72 L409.55,379.60 L409.87,379.47 L410.20,379.34 L410.52,379.22 L410.84,379.08 L411.17,378.93 L411.49,378.77 L411.82,378.61 L412.14,378.43 L412.47,378.24 L412.79,378.05 L413.11,377.84 L413.44,377.63 L413.76,377.41 L414.09,377.18 L414.41,376.95 L414.74,376.71 L415.06,376.46 L415.38,376.21 L415.71,375.96 L416.03,375.70 L416.36,375.43 L416.68,375.16 L417.01,374.89 L417.33,374.62 L417.65,374.33 L417.98,374.03 L418.30,373.73 L418.63,373.42 L418.95,373.09 L419.27,372.76 L419.60,372.41 L419.92,372.06 L420.25,371.69 L420.57,371.32 L420.90,370.93 L421.22,370.54 L421.54,370.13 L421.87,369.72 L422.19,369.29 L422.52,368.86 L422.84,368.41 L423.17,367.95 L423.49,367.49 L423.81,367.01 L424.14,366.51 L424.46,366.00 L424.79,365.47 L425.11,364.91 L425.43,364.34 L425.76,363.75 L426.08,363.14 L426.41,362.51 L426.73,361.85 L427.06,361.18 L427.38,360.49 L427.70,359.77 L428.03,359.04 L428.35,358.28 L428.68,357.51 L429.00,356.71 L429.33,355.89 L429.65,355.02 L429.97,354.10 L430.30,353.13 L430.62,352.11 L430.95,351.04 L431.27,349.93 L431.59,348.78 L431.92,347.58 L432.24,346.35 L432.57,345.09 L432.89,343.77 L433.22,342.37 L433.54,340.89 L433.86,339.34 L434.19,337.74 L434.51,336.09 L434.84,334.41 L435.16,332.52 L435.49,330.10 L435.81,327.76 L436.13,326.14 L436.46,325.87 L436.78,326.88 L437.11,328.79 L437.43,331.27 L437.75,333.98 L438.08,336.58 L438.40,338.76 L438.73,340.78 L439.05,342.81 L439.38,344.82 L439.70,346.80 L440.02,348.73 L440.35,350.59 L440.67,352.36 L441.00,354.08 L441.32,355.75 L441.65,357.37 L441.97,358.95 L442.29,360.48 L442.62,361.96 L442.94,363.40 L443.27,364.85 L443.59,366.27 L443.91,367.64 L444.24,368.94 L444.56,370.15 L444.89,371.24 L445.21,372.21 L445.54,373.14 L445.86,374.03 L446.18,374.88 L446.51,375.69 L446.83,376.45 L447.16,377.17 L447.48,377.83 L447.81,378.44 L448.13,379.00 L448.45,379.50 L448.78,379.98 L449.10,380.43 L449.43,380.87 L449.75,381.28 L450.07,381.68 L450.40,382.06 L450.72,382.43 L451.05,382.78 L451.37,383.12 L451.70,383.44 L452.02,383.75 L452.34,384.05 L452.67,384.34 L452.99,384.61 L453.32,384.88 L453.64,385.15 L453.97,385.40 L454.29,385.65 L454.61,385.90 L454.94,386.14 L455.26,386.37 L455.59,386.60 L455.91,386.82 L456.23,387.04 L456.56,387.26 L456.88,387.46 L457.21,387.66 L457.53,387.86 L457.86,388.04 L458.18,388.23 L458.50,388.40 L458.83,388.57 L459.15,388.73 L459.48,388.89 L459.80,389.04 L460.13,389.18 L460.45,389.31 L460.77,389.44 L461.10,389.57 L461.42,389.69 L461.75,389.80 L462.07,389.92 L462.39,390.03 L462.72,390.14 L463.04,390.24 L463.37,390.34 L463.69,390.44 L464.02,390.54 L464.34,390.64 L464.66,390.73 L464.99,390.82 L465.31,390.91 L465.64,391.00 L465.96,391.08 L466.29,391.17 L466.61,391.25 L466.93,391.33 L467.26,391.41 L467.58,391.49 L467.91,391.57 L468.23,391.65 L468.55,391.72 L468.88,391.80 L469.20,391.88 L469.53,391.96 L469.85,392.03 L470.18,392.11 L470.50,392.19 L470.82,392.26 L471.15,392.34 L471.47,392.41 L471.80,392.49 L472.12,392.56 L472.45,392.64 L472.77,392.71 L473.09,392.78 L473.42,392.85 L473.74,392.92 L474.07,392.99 L474.39,393.05 L474.72,393.12 L475.04,393.18 L475.36,393.24 L475.69,393.30 L476.01,393.36 L476.34,393.41 L476.66,393.47 L476.98,393.52 L477.31,393.57 L477.63,393.62 L477.96,393.66 L478.28,393.70 L478.61,393.74 L478.93,393.78 L479.25,393.82" fill="none" stroke="#de3246" stroke-width="1.8" stroke-linejoin="round"/>
</g>
<rect x="312.4" y="308.9" width="172.60000000000002" height="89.20000000000005" fill="none" stroke="#2e2e2e" stroke-width="1.1"/>
<g stroke="#222" stroke-width="1.1">
<line x1="308.5" y1="228.75" x2="312.4" y2="228.75"/><line x1="482.0" y1="228.75" x2="485.0" y2="228.75"/>
<line x1="308.5" y1="257.75" x2="312.4" y2="257.75"/><line x1="482.0" y1="257.75" x2="485.0" y2="257.75"/>
<line x1="308.5" y1="286.75" x2="312.4" y2="286.75"/><line x1="482.0" y1="286.75" x2="485.0" y2="286.75"/>
<line x1="308.5" y1="337.00" x2="312.4" y2="337.00"/><line x1="482.0" y1="337.00" x2="485.0" y2="337.00"/>
<line x1="308.5" y1="365.75" x2="312.4" y2="365.75"/><line x1="482.0" y1="365.75" x2="485.0" y2="365.75"/>
<line x1="308.5" y1="394.50" x2="312.4" y2="394.50"/><line x1="482.0" y1="394.50" x2="485.0" y2="394.50"/>
<line x1="370.00" y1="213.4" x2="370.00" y2="215.9"/><line x1="370.00" y1="299.7" x2="370.00" y2="302.2"/>
<line x1="370.00" y1="308.9" x2="370.00" y2="311.4"/>
<line x1="427.00" y1="213.4" x2="427.00" y2="215.9"/><line x1="427.00" y1="299.7" x2="427.00" y2="302.2"/>
<line x1="427.00" y1="308.9" x2="427.00" y2="311.4"/>
<line x1="339.70" y1="398.1" x2="339.70" y2="402.1"/>
<line x1="398.80" y1="398.1" x2="398.80" y2="402.1"/>
<line x1="450.00" y1="398.1" x2="450.00" y2="402.1"/>
</g>
<text x="255.6" y="211" font-size="17" text-anchor="start" fill="#222" stroke="#222" stroke-width="0.15" >(d)</text>
<text x="305.75" y="233.95" font-size="15.5" text-anchor="end" fill="#222" stroke="#222" stroke-width="0.15" >1.0</text>
<text x="305.75" y="262.95" font-size="15.5" text-anchor="end" fill="#222" stroke="#222" stroke-width="0.15" >0.8</text>
<text x="305.75" y="291.95" font-size="15.5" text-anchor="end" fill="#222" stroke="#222" stroke-width="0.15" >0.6</text>
<text x="305.75" y="342.2" font-size="15.5" text-anchor="end" fill="#222" stroke="#222" stroke-width="0.15" >0.4</text>
<text x="305.75" y="370.95" font-size="15.5" text-anchor="end" fill="#222" stroke="#222" stroke-width="0.15" >0.2</text>
<text x="305.75" y="399.7" font-size="15.5" text-anchor="end" fill="#222" stroke="#222" stroke-width="0.15" >0.0</text>
<text x="340.3" y="418.8" font-size="15.5" text-anchor="middle" fill="#222" stroke="#222" stroke-width="0.15" textLength="32" lengthAdjust="spacingAndGlyphs" >-0.10</text>
<text x="398.3" y="418.8" font-size="15.5" text-anchor="middle" fill="#222" stroke="#222" stroke-width="0.15" >0</text>
<text x="453.9" y="418.8" font-size="15.5" text-anchor="middle" fill="#222" stroke="#222" stroke-width="0.15" textLength="27.8" lengthAdjust="spacingAndGlyphs" >0.10</text>
<text x="350" y="446.3" font-size="17.5" fill="#222" stroke="#222" stroke-width="0.15" lengthAdjust="spacingAndGlyphs" textLength="52">Δ<tspan font-size="12" dy="3" font-style="italic">ω</tspan><tspan dy="-3">/2π</tspan></text>
<text x="411.5" y="446.3" font-size="17.5" fill="#222" stroke="#222" stroke-width="0.15" lengthAdjust="spacingAndGlyphs" textLength="46">(GHz)</text>
<text transform="translate(271.8,302.6) rotate(-90)" font-size="18" fill="#222" stroke="#222" stroke-width="0.15" lengthAdjust="spacingAndGlyphs" textLength="36">|S<tspan font-size="12" dy="3.5">11</tspan><tspan dy="-3.5">|</tspan></text>
<text transform="translate(271.8,261.3) rotate(-90)" font-size="18" fill="#222" stroke="#222" stroke-width="0.15" lengthAdjust="spacingAndGlyphs" textLength="40.3">(a.u.)</text>
<text transform="translate(271.8,392.5) rotate(-90)" font-size="18" fill="#222" stroke="#222" stroke-width="0.15" lengthAdjust="spacingAndGlyphs" textLength="28.5">|S<tspan font-size="12" dy="3.5" font-style="italic">o</tspan><tspan dy="-3.5">|</tspan></text>
<text transform="translate(271.8,357) rotate(-90)" font-size="18" fill="#222" stroke="#222" stroke-width="0.15" lengthAdjust="spacingAndGlyphs" textLength="39.8">(a.u.)</text>
</svg></body></html>
